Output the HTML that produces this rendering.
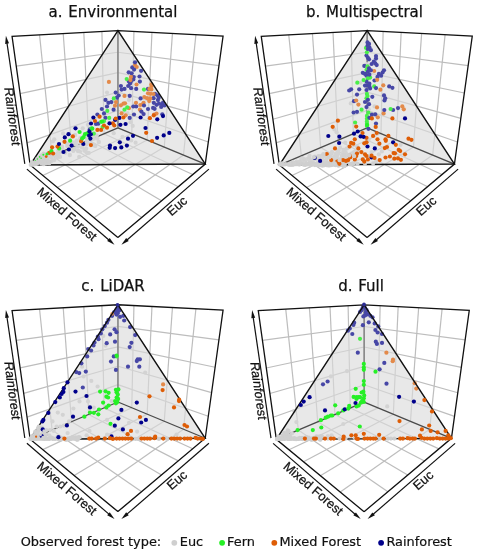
<!DOCTYPE html>
<html><head><meta charset="utf-8"><title>Forest type probabilities</title>
<style>
html,body{margin:0;padding:0;background:#fff}
svg{display:block;filter:blur(0.35px)}
text{font-family:"DejaVu Sans","Liberation Sans",sans-serif;fill:#111}
.ti{font-size:15px;word-spacing:1px;stroke:#111;stroke-width:0.25px}
.ax{font-size:12.8px;stroke:#111;stroke-width:0.25px;font-family:"Liberation Sans",sans-serif}
.lg{font-size:12.9px;stroke:#111;stroke-width:0.2px}
</style></head><body>
<svg width="478" height="550" viewBox="0 0 478 550">
<rect width="478" height="550" fill="#fff"/>
<g id="pa">
<g><line x1="104.08" y1="133.69" x2="101.91" y2="31.43" stroke="#bdbdbd" stroke-width="1.2"/><line x1="117.95" y1="110.4" x2="27.04" y2="142.93" stroke="#bdbdbd" stroke-width="1.2"/><line x1="131.79" y1="133.56" x2="133.93" y2="31.38" stroke="#bdbdbd" stroke-width="1.2"/><line x1="117.95" y1="110.4" x2="208.3" y2="142.04" stroke="#bdbdbd" stroke-width="1.2"/><line x1="104.08" y1="133.69" x2="192.73" y2="174.56" stroke="#bdbdbd" stroke-width="1.2"/><line x1="131.79" y1="133.56" x2="42.76" y2="175.44" stroke="#bdbdbd" stroke-width="1.2"/><line x1="88.68" y1="140.22" x2="83.82" y2="32.42" stroke="#bdbdbd" stroke-width="1.2"/><line x1="117.94" y1="92.06" x2="23.71" y2="119.21" stroke="#bdbdbd" stroke-width="1.2"/><line x1="147.15" y1="139.93" x2="151.96" y2="32.31" stroke="#bdbdbd" stroke-width="1.2"/><line x1="117.94" y1="92.06" x2="211.59" y2="118.42" stroke="#bdbdbd" stroke-width="1.2"/><line x1="88.68" y1="140.22" x2="178.31" y2="186.67" stroke="#bdbdbd" stroke-width="1.2"/><line x1="147.15" y1="139.93" x2="57.29" y2="187.42" stroke="#bdbdbd" stroke-width="1.2"/><line x1="71.46" y1="147.51" x2="63.21" y2="33.54" stroke="#bdbdbd" stroke-width="1.2"/><line x1="117.94" y1="72.69" x2="20.12" y2="93.68" stroke="#bdbdbd" stroke-width="1.2"/><line x1="164.28" y1="147.04" x2="172.45" y2="33.37" stroke="#bdbdbd" stroke-width="1.2"/><line x1="117.94" y1="72.69" x2="215.13" y2="93.02" stroke="#bdbdbd" stroke-width="1.2"/><line x1="71.46" y1="147.51" x2="161.5" y2="200.78" stroke="#bdbdbd" stroke-width="1.2"/><line x1="164.28" y1="147.04" x2="74.18" y2="201.36" stroke="#bdbdbd" stroke-width="1.2"/><line x1="52.1" y1="155.72" x2="39.54" y2="34.84" stroke="#bdbdbd" stroke-width="1.2"/><line x1="117.94" y1="52.22" x2="16.25" y2="66.14" stroke="#bdbdbd" stroke-width="1.2"/><line x1="183.5" y1="155.03" x2="195.91" y2="34.58" stroke="#bdbdbd" stroke-width="1.2"/><line x1="117.94" y1="52.22" x2="218.94" y2="65.62" stroke="#bdbdbd" stroke-width="1.2"/><line x1="52.1" y1="155.72" x2="141.66" y2="217.45" stroke="#bdbdbd" stroke-width="1.2"/><line x1="183.5" y1="155.03" x2="94.09" y2="217.79" stroke="#bdbdbd" stroke-width="1.2"/></g>
<polygon points="117.94,30.56 30.14,165.03 205.24,164.05" fill="#dbdbdb" fill-opacity="0.64" stroke="none"/>
<line x1="117.95" y1="127.81" x2="117.94" y2="30.56" stroke="#8a8a8a" stroke-width="1.7"/><line x1="117.95" y1="127.81" x2="30.14" y2="165.03" stroke="#4a4a4a" stroke-width="1.3"/><line x1="117.95" y1="127.81" x2="205.24" y2="164.05" stroke="#4a4a4a" stroke-width="1.3"/>
<g><circle cx="33.6" cy="160.5" r="1.56" fill="#d3d3d3"/><circle cx="36" cy="161.5" r="1.64" fill="#d3d3d3"/><circle cx="37.8" cy="160.7" r="1.68" fill="#d3d3d3"/><circle cx="39.5" cy="161.3" r="1.72" fill="#d3d3d3"/><circle cx="42.3" cy="160.3" r="1.8" fill="#d3d3d3"/><circle cx="42.4" cy="158.5" r="1.87" fill="#d3d3d3"/><circle cx="46.1" cy="158" r="1.95" fill="#d3d3d3"/><circle cx="47.7" cy="158.3" r="1.98" fill="#d3d3d3"/><circle cx="48.3" cy="156.2" r="2.05" fill="#d3d3d3"/><circle cx="51.8" cy="161" r="2.09" fill="#d3d3d3"/><circle cx="51.5" cy="157.5" r="2.12" fill="#d3d3d3"/><circle cx="54.3" cy="160.1" r="2.16" fill="#d3d3d3"/><circle cx="52.5" cy="154.2" r="2.2" fill="#d3d3d3"/><circle cx="54.4" cy="155.1" r="2.2" fill="#d3d3d3"/><circle cx="56" cy="154.9" r="2.2" fill="#d3d3d3"/><circle cx="57.5" cy="156.9" r="2.2" fill="#d3d3d3"/><circle cx="57.1" cy="153.6" r="2.2" fill="#d3d3d3"/><circle cx="58.5" cy="154.1" r="2.2" fill="#d3d3d3"/><circle cx="58.5" cy="150.5" r="2.2" fill="#d3d3d3"/><circle cx="61.2" cy="152.1" r="2.2" fill="#d3d3d3"/><circle cx="62" cy="146.7" r="2.2" fill="#d3d3d3"/><circle cx="62.3" cy="148.7" r="2.2" fill="#d3d3d3"/><circle cx="65.2" cy="152.6" r="2.2" fill="#d3d3d3"/><circle cx="69.8" cy="155" r="2.2" fill="#d3d3d3"/><circle cx="67.5" cy="146.2" r="2.2" fill="#d3d3d3"/><circle cx="67.2" cy="144" r="2.2" fill="#d3d3d3"/><circle cx="70.9" cy="147.3" r="2.2" fill="#d3d3d3"/><circle cx="71.3" cy="149.1" r="2.2" fill="#d3d3d3"/><circle cx="71.3" cy="142.2" r="2.2" fill="#d3d3d3"/><circle cx="74.5" cy="148.9" r="2.2" fill="#d3d3d3"/><circle cx="74" cy="142.7" r="2.2" fill="#d3d3d3"/><circle cx="78.1" cy="151" r="2.2" fill="#d3d3d3"/><circle cx="76" cy="144.5" r="2.2" fill="#d3d3d3"/><circle cx="78" cy="146.5" r="2.2" fill="#d3d3d3"/><circle cx="76.7" cy="140.8" r="2.2" fill="#d3d3d3"/><circle cx="75" cy="134.9" r="2.2" fill="#d3d3d3"/><circle cx="82.1" cy="147.4" r="2.2" fill="#d3d3d3"/><circle cx="81" cy="143.1" r="2.2" fill="#d3d3d3"/><circle cx="80.4" cy="138.2" r="2.2" fill="#d3d3d3"/><circle cx="81.9" cy="139.4" r="2.2" fill="#d3d3d3"/><circle cx="86.1" cy="148.8" r="2.2" fill="#d3d3d3"/><circle cx="86.2" cy="144.3" r="2.2" fill="#d3d3d3"/><circle cx="86.9" cy="142.4" r="2.2" fill="#d3d3d3"/><circle cx="87.3" cy="139.7" r="2.2" fill="#d3d3d3"/><circle cx="85.4" cy="136.8" r="2.2" fill="#d3d3d3"/><circle cx="86.8" cy="136.1" r="2.2" fill="#d3d3d3"/><circle cx="90.8" cy="143.8" r="2.2" fill="#d3d3d3"/><circle cx="92.7" cy="144.9" r="2.2" fill="#d3d3d3"/><circle cx="95.2" cy="145.9" r="2.2" fill="#d3d3d3"/><circle cx="92.2" cy="138.9" r="2.2" fill="#d3d3d3"/><circle cx="90.8" cy="132.9" r="2.2" fill="#d3d3d3"/><circle cx="93.8" cy="138.6" r="2.2" fill="#d3d3d3"/><circle cx="94" cy="136.1" r="2.2" fill="#d3d3d3"/><circle cx="97.3" cy="138.6" r="2.2" fill="#d3d3d3"/><circle cx="98.8" cy="142" r="2.2" fill="#d3d3d3"/><circle cx="96.7" cy="135.4" r="2.2" fill="#d3d3d3"/><circle cx="54.3" cy="139.3" r="2.1" fill="#d3d3d3"/><circle cx="52.8" cy="141.5" r="2.1" fill="#d3d3d3"/><circle cx="63.1" cy="133.4" r="2.1" fill="#d3d3d3"/><circle cx="60.1" cy="156.9" r="2.1" fill="#d3d3d3"/><circle cx="79.2" cy="156.9" r="2.1" fill="#d3d3d3"/><circle cx="82.8" cy="128.3" r="2.1" fill="#d3d3d3"/><circle cx="44" cy="159.8" r="2.1" fill="#d3d3d3"/><circle cx="86.5" cy="152.5" r="2.1" fill="#d3d3d3"/><circle cx="73.3" cy="151" r="2.1" fill="#d3d3d3"/><circle cx="107" cy="92.6" r="2.1" fill="#d3d3d3"/><circle cx="134.8" cy="104.3" r="2.1" fill="#d3d3d3"/><circle cx="127.5" cy="113.1" r="2.1" fill="#d3d3d3"/><circle cx="87.9" cy="124.8" r="2.1" fill="#d3d3d3"/><circle cx="128.9" cy="99.9" r="2.1" fill="#d3d3d3"/><circle cx="113.7" cy="133.2" r="2.1" fill="#d3d3d3"/><circle cx="122.5" cy="136.8" r="2.1" fill="#d3d3d3"/><circle cx="131.2" cy="140.5" r="2.1" fill="#d3d3d3"/><circle cx="135.6" cy="142.7" r="2.1" fill="#d3d3d3"/><circle cx="84.4" cy="150.7" r="2.1" fill="#d3d3d3"/><circle cx="88.8" cy="152.9" r="2.1" fill="#d3d3d3"/><circle cx="80" cy="151.5" r="2.1" fill="#d3d3d3"/><circle cx="132.7" cy="125.9" r="2.1" fill="#d3d3d3"/><circle cx="130.5" cy="122.2" r="2.1" fill="#d3d3d3"/><circle cx="155" cy="93.8" r="2.1" fill="#4747a6"/><circle cx="128.9" cy="108.2" r="2.1" fill="#e38a4a"/><circle cx="105.5" cy="117.8" r="2.1" fill="#4747a6"/><circle cx="132.6" cy="77.2" r="2.1" fill="#e38a4a"/><circle cx="123.5" cy="103.6" r="2.1" fill="#e38a4a"/><circle cx="157.9" cy="100.1" r="2.1" fill="#4747a6"/><circle cx="118.7" cy="95.5" r="2.1" fill="#4747a6"/><circle cx="132.3" cy="67.4" r="2.1" fill="#4747a6"/><circle cx="115.7" cy="92.6" r="2.1" fill="#4747a6"/><circle cx="125.7" cy="115.3" r="2.1" fill="#e38a4a"/><circle cx="124.5" cy="95.9" r="2.1" fill="#e38a4a"/><circle cx="162.3" cy="114.3" r="2.1" fill="#4747a6"/><circle cx="136" cy="102.8" r="2.1" fill="#e38a4a"/><circle cx="153.6" cy="98.2" r="2.1" fill="#4747a6"/><circle cx="128.9" cy="81.6" r="2.1" fill="#4747a6"/><circle cx="153.1" cy="107.9" r="2.1" fill="#4747a6"/><circle cx="139.9" cy="109.7" r="2.1" fill="#e38a4a"/><circle cx="164.5" cy="105.5" r="2.1" fill="#4747a6"/><circle cx="133.3" cy="79.4" r="2.1" fill="#4747a6"/><circle cx="108.9" cy="81.9" r="2.1" fill="#e38a4a"/><circle cx="127.2" cy="107.4" r="2.1" fill="#4aee4a"/><circle cx="134" cy="114.5" r="2.1" fill="#4747a6"/><circle cx="158.7" cy="97.8" r="2.1" fill="#4747a6"/><circle cx="154.2" cy="114.6" r="2.1" fill="#e38a4a"/><circle cx="128.2" cy="86" r="2.1" fill="#4747a6"/><circle cx="116.9" cy="97.7" r="2.1" fill="#4747a6"/><circle cx="144.3" cy="97" r="2.1" fill="#e38a4a"/><circle cx="142.9" cy="104.4" r="2.1" fill="#e38a4a"/><circle cx="159" cy="103.7" r="2.1" fill="#4747a6"/><circle cx="129.7" cy="95.9" r="2.1" fill="#4747a6"/><circle cx="161.2" cy="107" r="2.1" fill="#4747a6"/><circle cx="98.3" cy="123.7" r="2.1" fill="#4747a6"/><circle cx="150.6" cy="93.8" r="2.1" fill="#e38a4a"/><circle cx="133.8" cy="77" r="2.1" fill="#4747a6"/><circle cx="143.6" cy="114.1" r="2.1" fill="#4747a6"/><circle cx="139.5" cy="76.5" r="2.1" fill="#4747a6"/><circle cx="101.8" cy="109" r="2.1" fill="#4747a6"/><circle cx="139.9" cy="81.6" r="2.1" fill="#4747a6"/><circle cx="107.3" cy="110.9" r="2.1" fill="#4aee4a"/><circle cx="108.4" cy="102.8" r="2.1" fill="#4747a6"/><circle cx="89.9" cy="129.3" r="2.1" fill="#4747a6"/><circle cx="149.2" cy="101.1" r="2.1" fill="#e38a4a"/><circle cx="115" cy="105.7" r="2.1" fill="#e38a4a"/><circle cx="131.1" cy="88.2" r="2.1" fill="#4747a6"/><circle cx="130.9" cy="81.4" r="2.1" fill="#4747a6"/><circle cx="156.5" cy="104.8" r="2.1" fill="#4747a6"/><circle cx="150.2" cy="98.4" r="2.1" fill="#e38a4a"/><circle cx="147" cy="98.2" r="2.1" fill="#e38a4a"/><circle cx="153.8" cy="102.8" r="2.1" fill="#4747a6"/><circle cx="140.3" cy="105" r="2.1" fill="#e38a4a"/><circle cx="111.4" cy="102.1" r="2.1" fill="#4747a6"/><circle cx="121.6" cy="113.4" r="2.1" fill="#e38a4a"/><circle cx="135" cy="65" r="2.1" fill="#e38a4a"/><circle cx="113.6" cy="109.7" r="2.1" fill="#4747a6"/><circle cx="91.6" cy="128.4" r="2.1" fill="#4aee4a"/><circle cx="157.5" cy="95.3" r="2.1" fill="#4747a6"/><circle cx="113.8" cy="98.4" r="2.1" fill="#4aee4a"/><circle cx="162" cy="104.4" r="2.1" fill="#4747a6"/><circle cx="129.7" cy="117.9" r="2.1" fill="#4747a6"/><circle cx="120.9" cy="105.3" r="2.1" fill="#e38a4a"/><circle cx="136.2" cy="106.5" r="2.1" fill="#4747a6"/><circle cx="116" cy="102.1" r="2.1" fill="#e38a4a"/><circle cx="136.2" cy="88.9" r="2.1" fill="#4747a6"/><circle cx="136.7" cy="67" r="2.1" fill="#e38a4a"/><circle cx="144" cy="89.6" r="2.1" fill="#4aee4a"/><circle cx="140.6" cy="98.4" r="2.1" fill="#4747a6"/><circle cx="151.6" cy="86" r="2.1" fill="#e38a4a"/><circle cx="101.1" cy="121.9" r="2.1" fill="#4aee4a"/><circle cx="124.5" cy="88.9" r="2.1" fill="#4747a6"/><circle cx="107" cy="106.5" r="2.1" fill="#4747a6"/><circle cx="154.6" cy="108.8" r="2.1" fill="#4747a6"/><circle cx="104" cy="121.1" r="2.1" fill="#4aee4a"/><circle cx="148" cy="93.3" r="2.1" fill="#e38a4a"/><circle cx="121.6" cy="89.6" r="2.1" fill="#4747a6"/><circle cx="141.1" cy="70.8" r="2.1" fill="#4747a6"/><circle cx="136.5" cy="84.5" r="2.1" fill="#e38a4a"/><circle cx="135" cy="62.3" r="2.1" fill="#4747a6"/><circle cx="96" cy="124" r="2.1" fill="#4747a6"/><circle cx="130.1" cy="83.6" r="2.1" fill="#4747a6"/><circle cx="105.5" cy="99.9" r="2.1" fill="#4747a6"/><circle cx="109.2" cy="117.9" r="2.1" fill="#4aee4a"/><circle cx="97.4" cy="114.5" r="2.1" fill="#4747a6"/><circle cx="134.1" cy="69.6" r="2.1" fill="#4747a6"/><circle cx="141.4" cy="111.6" r="2.1" fill="#4747a6"/><circle cx="148" cy="88.9" r="2.1" fill="#4747a6"/><circle cx="126.7" cy="79.1" r="2.1" fill="#4aee4a"/><circle cx="163.1" cy="102.6" r="2.1" fill="#4747a6"/><circle cx="104" cy="113.4" r="2.1" fill="#4747a6"/><circle cx="120.9" cy="86" r="2.1" fill="#4747a6"/><circle cx="151.4" cy="84.3" r="2.1" fill="#e38a4a"/><circle cx="131.6" cy="73.3" r="2.1" fill="#4747a6"/><circle cx="143.6" cy="102.8" r="2.1" fill="#e38a4a"/><circle cx="102.6" cy="127" r="2.1" fill="#4aee4a"/><circle cx="130.4" cy="80.1" r="2.1" fill="#e38a4a"/><circle cx="151.4" cy="89.4" r="2.1" fill="#e38a4a"/><circle cx="144" cy="105.5" r="2.1" fill="#4747a6"/><circle cx="133.3" cy="106.5" r="2.1" fill="#4747a6"/><circle cx="124.5" cy="109.7" r="2.1" fill="#4aee4a"/><circle cx="130.9" cy="77" r="2.1" fill="#e38a4a"/><circle cx="156.5" cy="113.6" r="2.1" fill="#e38a4a"/><circle cx="93.8" cy="133.6" r="2.1" fill="#4aee4a"/><circle cx="149.4" cy="88.9" r="2.1" fill="#e38a4a"/><circle cx="125" cy="103.3" r="2.1" fill="#e38a4a"/><circle cx="153.5" cy="94" r="2.1" fill="#e38a4a"/><circle cx="148" cy="109" r="2.1" fill="#4747a6"/><circle cx="128.7" cy="72.3" r="2.1" fill="#4747a6"/></g>
<polygon points="117.94,30.56 30.14,165.03 205.24,164.05" fill="none" stroke="#111" stroke-width="1.4" stroke-linejoin="miter"/>
<polyline points="117.88,237.42 30.14,165.03 12.06,36.34 117.94,30.56 223.07,35.99 205.24,164.05 117.88,237.42" fill="none" stroke="#111" stroke-width="1.3" stroke-linejoin="miter"/>
<g><circle cx="30.33" cy="164.88" r="1.61" fill="#cfcfcf"/><circle cx="30.64" cy="164.61" r="1.63" fill="#cfcfcf"/><circle cx="30.45" cy="164.01" r="1.65" fill="#cfcfcf"/><circle cx="31.4" cy="164.34" r="1.67" fill="#cfcfcf"/><circle cx="31.7" cy="164.04" r="1.69" fill="#cfcfcf"/><circle cx="31.87" cy="163.58" r="1.71" fill="#cfcfcf"/><circle cx="32.75" cy="165.02" r="1.73" fill="#cfcfcf"/><circle cx="32.72" cy="163.4" r="1.75" fill="#cfcfcf"/><circle cx="32.64" cy="162.63" r="1.77" fill="#cfcfcf"/><circle cx="32.09" cy="161.68" r="1.79" fill="#cfcfcf"/><circle cx="30.32" cy="164.95" r="1.5" fill="#cfcfcf"/><circle cx="30.63" cy="164.85" r="1.51" fill="#cfcfcf"/><circle cx="30.98" cy="164.88" r="1.52" fill="#cfcfcf"/><circle cx="31.11" cy="164.3" r="1.53" fill="#cfcfcf"/><circle cx="31.45" cy="164.22" r="1.54" fill="#cfcfcf"/><circle cx="31.98" cy="164.84" r="1.55" fill="#cfcfcf"/><circle cx="31.78" cy="163.53" r="1.55" fill="#cfcfcf"/><circle cx="32.05" cy="163.33" r="1.56" fill="#cfcfcf"/><circle cx="32.65" cy="163.62" r="1.57" fill="#cfcfcf"/><circle cx="32.98" cy="163.53" r="1.58" fill="#cfcfcf"/><circle cx="33.61" cy="164.44" r="1.59" fill="#cfcfcf"/><circle cx="33.98" cy="164.77" r="1.6" fill="#cfcfcf"/><circle cx="33.98" cy="163.31" r="1.6" fill="#cfcfcf"/><circle cx="34.64" cy="164.6" r="1.61" fill="#cfcfcf"/><circle cx="34.92" cy="164.14" r="1.62" fill="#cfcfcf"/><circle cx="35.21" cy="163.89" r="1.63" fill="#cfcfcf"/><circle cx="35.64" cy="164.63" r="1.64" fill="#cfcfcf"/><circle cx="35.61" cy="162.89" r="1.65" fill="#cfcfcf"/><circle cx="35.96" cy="162.86" r="1.65" fill="#cfcfcf"/><circle cx="35.43" cy="161.14" r="1.66" fill="#cfcfcf"/><circle cx="36.45" cy="162.29" r="1.67" fill="#cfcfcf"/><circle cx="36.5" cy="161.61" r="1.68" fill="#cfcfcf"/><circle cx="37.1" cy="162.12" r="1.69" fill="#cfcfcf"/><circle cx="37.03" cy="161.19" r="1.7" fill="#cfcfcf"/><circle cx="37.81" cy="162.09" r="1.7" fill="#cfcfcf"/><circle cx="38.43" cy="162.99" r="1.71" fill="#cfcfcf"/><circle cx="36.72" cy="159.02" r="1.72" fill="#cfcfcf"/><circle cx="36.98" cy="158.8" r="1.73" fill="#cfcfcf"/><circle cx="37.87" cy="159.38" r="1.74" fill="#cfcfcf"/><circle cx="38.64" cy="159.95" r="1.75" fill="#cfcfcf"/><circle cx="39.99" cy="162.35" r="1.75" fill="#cfcfcf"/><circle cx="40.45" cy="162.87" r="1.76" fill="#cfcfcf"/><circle cx="40.68" cy="162.37" r="1.77" fill="#cfcfcf"/><circle cx="41.28" cy="163.97" r="1.78" fill="#cfcfcf"/><circle cx="39.83" cy="158.7" r="1.79" fill="#cfcfcf"/><circle cx="41.4" cy="161.24" r="1.8" fill="#cfcfcf"/><circle cx="40.01" cy="157.77" r="1.8" fill="#cfcfcf"/><circle cx="42.07" cy="161.15" r="1.81" fill="#cfcfcf"/><circle cx="39.93" cy="156.59" r="1.82" fill="#cfcfcf"/><circle cx="40.82" cy="157.18" r="1.83" fill="#cfcfcf"/><circle cx="43.64" cy="164.42" r="1.84" fill="#cfcfcf"/><circle cx="43.76" cy="162.4" r="1.85" fill="#cfcfcf"/><circle cx="41.25" cy="156.09" r="1.85" fill="#cfcfcf"/><circle cx="43.71" cy="159.74" r="1.86" fill="#cfcfcf"/><circle cx="41.31" cy="155.11" r="1.87" fill="#cfcfcf"/><circle cx="44.58" cy="160.22" r="1.88" fill="#cfcfcf"/><circle cx="45.59" cy="163.55" r="1.89" fill="#cfcfcf"/><circle cx="44.24" cy="157.65" r="1.9" fill="#cfcfcf"/><circle cx="43.69" cy="156.04" r="1.9" fill="#cfcfcf"/><circle cx="46.24" cy="161.22" r="1.91" fill="#cfcfcf"/><circle cx="46.91" cy="163.26" r="1.92" fill="#cfcfcf"/><circle cx="46.71" cy="160.34" r="1.93" fill="#cfcfcf"/><circle cx="43.44" cy="153.49" r="1.94" fill="#cfcfcf"/><circle cx="45.22" cy="155.33" r="1.95" fill="#cfcfcf"/><circle cx="48.19" cy="162.74" r="1.95" fill="#cfcfcf"/><circle cx="48.26" cy="161.06" r="1.96" fill="#cfcfcf"/><circle cx="48.88" cy="162.88" r="1.97" fill="#cfcfcf"/><circle cx="49.26" cy="163.39" r="1.98" fill="#cfcfcf"/><circle cx="46.34" cy="153.99" r="1.99" fill="#cfcfcf"/><circle cx="49.73" cy="161.72" r="2" fill="#cfcfcf"/></g>
<g><circle cx="31.1" cy="163.5" r="1.43" fill="#cfcfcf"/><circle cx="32.7" cy="162.9" r="1.48" fill="#cfcfcf"/><circle cx="37.3" cy="164.1" r="1.6" fill="#cfcfcf"/><circle cx="59.1" cy="148.4" r="2.1" fill="#26f026"/><circle cx="93.4" cy="117.6" r="2.1" fill="#00008b"/><circle cx="146.2" cy="132.8" r="2.1" fill="#de5d06"/><circle cx="83.6" cy="137.1" r="2.1" fill="#26f026"/><circle cx="125.6" cy="124" r="2.1" fill="#00008b"/><circle cx="70.1" cy="140.7" r="2.1" fill="#26f026"/><circle cx="83.3" cy="144" r="2.1" fill="#00008b"/><circle cx="49.2" cy="152.9" r="2.1" fill="#de5d06"/><circle cx="90.9" cy="145.1" r="2.1" fill="#de5d06"/><circle cx="104" cy="125.5" r="2.1" fill="#de5d06"/><circle cx="47" cy="153.9" r="1.5" fill="#26f026"/><circle cx="107" cy="127.7" r="2.1" fill="#de5d06"/><circle cx="57.5" cy="146.6" r="2.1" fill="#de5d06"/><circle cx="41.1" cy="158.3" r="0.7" fill="#26f026"/><circle cx="119.4" cy="117.9" r="2.1" fill="#00008b"/><circle cx="43.3" cy="154.7" r="1" fill="#26f026"/><circle cx="51.4" cy="151" r="2.1" fill="#26f026"/><circle cx="149.9" cy="118.2" r="2.1" fill="#de5d06"/><circle cx="46.2" cy="156.6" r="1.4" fill="#de5d06"/><circle cx="169.3" cy="132.9" r="2.1" fill="#00008b"/><circle cx="81.1" cy="141.2" r="2.1" fill="#de5d06"/><circle cx="128" cy="138.7" r="2.1" fill="#00008b"/><circle cx="115.1" cy="120" r="2.1" fill="#00008b"/><circle cx="39.6" cy="156.9" r="0.8" fill="#26f026"/><circle cx="157.3" cy="119.3" r="2.1" fill="#00008b"/><circle cx="97.4" cy="129.9" r="2.1" fill="#de5d06"/><circle cx="133" cy="135.8" r="2.1" fill="#00008b"/><circle cx="79.6" cy="132" r="2.1" fill="#26f026"/><circle cx="101.1" cy="129.9" r="2.1" fill="#de5d06"/><circle cx="37.4" cy="159" r="0.7" fill="#26f026"/><circle cx="82.2" cy="138.3" r="2.1" fill="#26f026"/><circle cx="85" cy="134.2" r="2.1" fill="#26f026"/><circle cx="35.2" cy="160.5" r="0.6" fill="#26f026"/><circle cx="163" cy="116.1" r="2.1" fill="#00008b"/><circle cx="91" cy="123.5" r="2.1" fill="#00008b"/><circle cx="64.5" cy="141.8" r="2.1" fill="#de5d06"/><circle cx="52.1" cy="147.3" r="2.1" fill="#de5d06"/><circle cx="75.5" cy="128.3" r="2.1" fill="#00008b"/><circle cx="112.8" cy="123.3" r="2.1" fill="#de5d06"/><circle cx="114.3" cy="125.5" r="2.1" fill="#de5d06"/><circle cx="71.6" cy="145.6" r="2.1" fill="#00008b"/><circle cx="102" cy="121.5" r="2.1" fill="#26f026"/><circle cx="140.6" cy="117.5" r="2.1" fill="#00008b"/><circle cx="109.5" cy="123.3" r="2.1" fill="#00008b"/><circle cx="157.1" cy="137.8" r="2.1" fill="#00008b"/><circle cx="120.4" cy="124.8" r="2.1" fill="#00008b"/><circle cx="68.5" cy="134.2" r="2.1" fill="#00008b"/><circle cx="87.2" cy="133.4" r="2.1" fill="#26f026"/><circle cx="63.5" cy="152" r="2.1" fill="#00008b"/><circle cx="53.1" cy="153.5" r="2.1" fill="#de5d06"/><circle cx="68.9" cy="149.5" r="2.1" fill="#00008b"/><circle cx="59" cy="144" r="2.1" fill="#00008b"/><circle cx="90.9" cy="134.3" r="2.1" fill="#00008b"/><circle cx="109.7" cy="147.8" r="2.1" fill="#00008b"/><circle cx="163.7" cy="135.4" r="2.1" fill="#00008b"/><circle cx="152" cy="141" r="2.1" fill="#de5d06"/><circle cx="89.1" cy="135.6" r="2.1" fill="#00008b"/><circle cx="72.9" cy="136.4" r="2.1" fill="#de5d06"/><circle cx="115.1" cy="148.1" r="2.1" fill="#00008b"/><circle cx="119.8" cy="142.3" r="2.1" fill="#00008b"/><circle cx="110" cy="145.6" r="2.1" fill="#00008b"/><circle cx="99.6" cy="116.7" r="2.1" fill="#de5d06"/><circle cx="123.4" cy="117.5" r="2.1" fill="#de5d06"/><circle cx="121.3" cy="147.4" r="2.1" fill="#00008b"/><circle cx="89.4" cy="131.4" r="2.1" fill="#00008b"/><circle cx="92.3" cy="128.7" r="2.1" fill="#26f026"/><circle cx="95" cy="121" r="2.1" fill="#de5d06"/><circle cx="90.4" cy="138.6" r="2.1" fill="#00008b"/><circle cx="153.8" cy="115.3" r="2.1" fill="#de5d06"/><circle cx="64.8" cy="137.4" r="2.1" fill="#00008b"/><circle cx="145.5" cy="128" r="2.1" fill="#00008b"/><circle cx="126.9" cy="145.6" r="2.1" fill="#00008b"/><circle cx="115.7" cy="118.5" r="2.1" fill="#de5d06"/></g>
<g></g>
<line x1="24.8" y1="163.8" x2="6.92" y2="42.63" stroke="#111" stroke-width="1.2"/><polygon points="5.9,35.7 9,43.33 5.14,43.9" fill="#111"/>
<line x1="26.9" y1="169.1" x2="109.2" y2="240.22" stroke="#111" stroke-width="1.2"/><polygon points="114.5,244.8 107.17,241.04 109.72,238.09" fill="#111"/>
<line x1="208.9" y1="169.1" x2="126.69" y2="240.22" stroke="#111" stroke-width="1.2"/><polygon points="121.4,244.8 126.17,238.09 128.73,241.04" fill="#111"/>
<text transform="translate(8.1,116.5) rotate(82.2) skewX(-8)" text-anchor="middle" class="ax">Rainforest</text>
<text transform="translate(64.3,217.5) rotate(40.8)" text-anchor="middle" class="ax">Mixed Forest</text>
<text transform="translate(179.8,209.2) rotate(-40.8)" text-anchor="middle" class="ax">Euc</text>
<text x="113" y="16.9" text-anchor="middle" class="ti">a. Environmental</text>
</g>
<g id="pb">
<g><line x1="353.28" y1="133.69" x2="351.11" y2="31.43" stroke="#bdbdbd" stroke-width="1.2"/><line x1="367.15" y1="110.4" x2="276.24" y2="142.93" stroke="#bdbdbd" stroke-width="1.2"/><line x1="380.99" y1="133.56" x2="383.13" y2="31.38" stroke="#bdbdbd" stroke-width="1.2"/><line x1="367.15" y1="110.4" x2="457.5" y2="142.04" stroke="#bdbdbd" stroke-width="1.2"/><line x1="353.28" y1="133.69" x2="441.93" y2="174.56" stroke="#bdbdbd" stroke-width="1.2"/><line x1="380.99" y1="133.56" x2="291.96" y2="175.44" stroke="#bdbdbd" stroke-width="1.2"/><line x1="337.88" y1="140.22" x2="333.02" y2="32.42" stroke="#bdbdbd" stroke-width="1.2"/><line x1="367.14" y1="92.06" x2="272.91" y2="119.21" stroke="#bdbdbd" stroke-width="1.2"/><line x1="396.35" y1="139.93" x2="401.16" y2="32.31" stroke="#bdbdbd" stroke-width="1.2"/><line x1="367.14" y1="92.06" x2="460.79" y2="118.42" stroke="#bdbdbd" stroke-width="1.2"/><line x1="337.88" y1="140.22" x2="427.51" y2="186.67" stroke="#bdbdbd" stroke-width="1.2"/><line x1="396.35" y1="139.93" x2="306.49" y2="187.42" stroke="#bdbdbd" stroke-width="1.2"/><line x1="320.66" y1="147.51" x2="312.41" y2="33.54" stroke="#bdbdbd" stroke-width="1.2"/><line x1="367.14" y1="72.69" x2="269.32" y2="93.68" stroke="#bdbdbd" stroke-width="1.2"/><line x1="413.48" y1="147.04" x2="421.65" y2="33.37" stroke="#bdbdbd" stroke-width="1.2"/><line x1="367.14" y1="72.69" x2="464.33" y2="93.02" stroke="#bdbdbd" stroke-width="1.2"/><line x1="320.66" y1="147.51" x2="410.7" y2="200.78" stroke="#bdbdbd" stroke-width="1.2"/><line x1="413.48" y1="147.04" x2="323.38" y2="201.36" stroke="#bdbdbd" stroke-width="1.2"/><line x1="301.3" y1="155.72" x2="288.74" y2="34.84" stroke="#bdbdbd" stroke-width="1.2"/><line x1="367.14" y1="52.22" x2="265.45" y2="66.14" stroke="#bdbdbd" stroke-width="1.2"/><line x1="432.7" y1="155.03" x2="445.11" y2="34.58" stroke="#bdbdbd" stroke-width="1.2"/><line x1="367.14" y1="52.22" x2="468.14" y2="65.62" stroke="#bdbdbd" stroke-width="1.2"/><line x1="301.3" y1="155.72" x2="390.86" y2="217.45" stroke="#bdbdbd" stroke-width="1.2"/><line x1="432.7" y1="155.03" x2="343.29" y2="217.79" stroke="#bdbdbd" stroke-width="1.2"/></g>
<polygon points="367.14,30.56 279.34,165.03 454.44,164.05" fill="#dbdbdb" fill-opacity="0.64" stroke="none"/>
<line x1="367.15" y1="127.81" x2="367.14" y2="30.56" stroke="#8a8a8a" stroke-width="1.7"/><line x1="367.15" y1="127.81" x2="279.34" y2="165.03" stroke="#4a4a4a" stroke-width="1.3"/><line x1="367.15" y1="127.81" x2="454.44" y2="164.05" stroke="#4a4a4a" stroke-width="1.3"/>
<g><circle cx="292.8" cy="161.6" r="1.64" fill="#d3d3d3"/><circle cx="296.6" cy="161.2" r="1.74" fill="#d3d3d3"/><circle cx="300.1" cy="161.9" r="1.82" fill="#d3d3d3"/><circle cx="301.5" cy="160.2" r="1.86" fill="#d3d3d3"/><circle cx="302.4" cy="162.2" r="1.87" fill="#d3d3d3"/><circle cx="302.8" cy="160.8" r="1.88" fill="#d3d3d3"/><circle cx="305.2" cy="162.3" r="1.94" fill="#d3d3d3"/><circle cx="305.4" cy="159.8" r="1.95" fill="#d3d3d3"/><circle cx="306.9" cy="158.9" r="1.99" fill="#d3d3d3"/><circle cx="310.1" cy="161.5" r="2.06" fill="#d3d3d3"/><circle cx="310.5" cy="160.1" r="2.07" fill="#d3d3d3"/><circle cx="312.4" cy="161.7" r="2.11" fill="#d3d3d3"/><circle cx="313.3" cy="160" r="2.14" fill="#d3d3d3"/><circle cx="314.8" cy="158.9" r="2.18" fill="#d3d3d3"/><circle cx="314.9" cy="156.7" r="2.19" fill="#d3d3d3"/><circle cx="317" cy="158.6" r="2.2" fill="#d3d3d3"/><circle cx="317.8" cy="156.7" r="2.2" fill="#d3d3d3"/><circle cx="319.9" cy="159.1" r="2.2" fill="#d3d3d3"/><circle cx="320.2" cy="157.7" r="2.2" fill="#d3d3d3"/><circle cx="321.1" cy="156.3" r="2.2" fill="#d3d3d3"/><circle cx="322.1" cy="158.8" r="2.2" fill="#d3d3d3"/><circle cx="322.9" cy="161.7" r="2.2" fill="#d3d3d3"/><circle cx="323.2" cy="155.6" r="2.2" fill="#d3d3d3"/><circle cx="324.9" cy="155.9" r="2.2" fill="#d3d3d3"/><circle cx="326.1" cy="160" r="2.2" fill="#d3d3d3"/><circle cx="327.2" cy="155.8" r="2.2" fill="#d3d3d3"/><circle cx="327.5" cy="154.5" r="2.2" fill="#d3d3d3"/><circle cx="330" cy="155.9" r="2.2" fill="#d3d3d3"/><circle cx="331.2" cy="160.5" r="2.2" fill="#d3d3d3"/><circle cx="330.7" cy="153.7" r="2.2" fill="#d3d3d3"/><circle cx="332.6" cy="158.1" r="2.2" fill="#d3d3d3"/><circle cx="332" cy="151.9" r="2.2" fill="#d3d3d3"/><circle cx="334" cy="160.5" r="2.2" fill="#d3d3d3"/><circle cx="334.6" cy="156.6" r="2.2" fill="#d3d3d3"/><circle cx="336.3" cy="161.8" r="2.2" fill="#d3d3d3"/><circle cx="336.6" cy="158.9" r="2.2" fill="#d3d3d3"/><circle cx="336.8" cy="156.1" r="2.2" fill="#d3d3d3"/><circle cx="338" cy="162.3" r="2.2" fill="#d3d3d3"/><circle cx="337.8" cy="152.3" r="2.2" fill="#d3d3d3"/><circle cx="338.6" cy="150.8" r="2.2" fill="#d3d3d3"/><circle cx="341.1" cy="158.9" r="2.2" fill="#d3d3d3"/><circle cx="341.9" cy="156.7" r="2.2" fill="#d3d3d3"/><circle cx="342.2" cy="154.8" r="2.2" fill="#d3d3d3"/><circle cx="343.5" cy="149.9" r="2.2" fill="#d3d3d3"/><circle cx="345.2" cy="156.5" r="2.2" fill="#d3d3d3"/><circle cx="345.8" cy="153" r="2.2" fill="#d3d3d3"/><circle cx="347.3" cy="160.6" r="2.2" fill="#d3d3d3"/><circle cx="346.6" cy="148.6" r="2.2" fill="#d3d3d3"/><circle cx="348.5" cy="155.8" r="2.2" fill="#d3d3d3"/><circle cx="350.4" cy="157.4" r="2.2" fill="#d3d3d3"/><circle cx="350.6" cy="154.5" r="2.2" fill="#d3d3d3"/><circle cx="352.1" cy="153.4" r="2.2" fill="#d3d3d3"/><circle cx="354.1" cy="152.2" r="2.2" fill="#d3d3d3"/><circle cx="355.4" cy="158" r="2.2" fill="#d3d3d3"/><circle cx="355.6" cy="150.9" r="2.2" fill="#d3d3d3"/><circle cx="357.4" cy="151.7" r="2.2" fill="#d3d3d3"/><circle cx="356.9" cy="146.4" r="2.2" fill="#d3d3d3"/><circle cx="366.9" cy="64" r="2.1" fill="#d3d3d3"/><circle cx="360.6" cy="82.7" r="2.1" fill="#d3d3d3"/><circle cx="368.7" cy="109.3" r="2.1" fill="#d3d3d3"/><circle cx="350.8" cy="103.4" r="2.1" fill="#d3d3d3"/><circle cx="374.5" cy="106.4" r="2.1" fill="#d3d3d3"/><circle cx="345.2" cy="142.6" r="2.1" fill="#d3d3d3"/><circle cx="340.1" cy="147.7" r="2.1" fill="#d3d3d3"/><circle cx="343.8" cy="151.4" r="2.1" fill="#d3d3d3"/><circle cx="337.9" cy="154.3" r="2.1" fill="#d3d3d3"/><circle cx="371.6" cy="152.1" r="2.1" fill="#d3d3d3"/><circle cx="378.9" cy="154.3" r="2.1" fill="#d3d3d3"/><circle cx="368.7" cy="139.6" r="2.1" fill="#d3d3d3"/><circle cx="381.9" cy="151.4" r="2.1" fill="#d3d3d3"/><circle cx="376" cy="161.6" r="2.1" fill="#d3d3d3"/><circle cx="301.5" cy="158.7" r="2.1" fill="#d3d3d3"/><circle cx="309.5" cy="155.7" r="2.1" fill="#d3d3d3"/><circle cx="335.9" cy="153.6" r="2.1" fill="#d3d3d3"/><circle cx="328.6" cy="157.2" r="2.1" fill="#d3d3d3"/><circle cx="334.4" cy="129.4" r="2.1" fill="#d3d3d3"/><circle cx="336.6" cy="132.3" r="2.1" fill="#d3d3d3"/><circle cx="400.6" cy="144.8" r="2.1" fill="#d3d3d3"/><circle cx="361.6" cy="109.7" r="2.1" fill="#4aee4a"/><circle cx="369" cy="59.3" r="2.1" fill="#4747a6"/><circle cx="372.3" cy="96.8" r="2.1" fill="#4747a6"/><circle cx="366.5" cy="75.7" r="2.1" fill="#4747a6"/><circle cx="366.5" cy="55.6" r="2.1" fill="#4747a6"/><circle cx="366.9" cy="118.8" r="2.1" fill="#4aee4a"/><circle cx="359.2" cy="89.3" r="2.1" fill="#4747a6"/><circle cx="393.1" cy="110" r="2.1" fill="#4747a6"/><circle cx="351.1" cy="89.3" r="2.1" fill="#4747a6"/><circle cx="376" cy="58.6" r="2.1" fill="#4747a6"/><circle cx="369.4" cy="47.3" r="2.1" fill="#4747a6"/><circle cx="358.4" cy="104.6" r="2.1" fill="#e38a4a"/><circle cx="373.8" cy="61.5" r="2.1" fill="#4747a6"/><circle cx="366.9" cy="115.9" r="2.1" fill="#4aee4a"/><circle cx="378.9" cy="73.9" r="2.1" fill="#4747a6"/><circle cx="370.1" cy="88.5" r="2.1" fill="#4747a6"/><circle cx="371.6" cy="64" r="2.1" fill="#4747a6"/><circle cx="366.9" cy="123.9" r="2.1" fill="#4aee4a"/><circle cx="382.6" cy="72.5" r="2.1" fill="#4747a6"/><circle cx="369" cy="43.9" r="2.1" fill="#4747a6"/><circle cx="349.2" cy="90.5" r="2.1" fill="#4747a6"/><circle cx="368.4" cy="112.5" r="2.1" fill="#4aee4a"/><circle cx="374.5" cy="80.5" r="2.1" fill="#4747a6"/><circle cx="389.2" cy="86.4" r="2.1" fill="#4747a6"/><circle cx="364.3" cy="65.9" r="2.1" fill="#4747a6"/><circle cx="374.2" cy="86.4" r="2.1" fill="#4aee4a"/><circle cx="366.9" cy="126.1" r="2.1" fill="#4aee4a"/><circle cx="366.9" cy="93.9" r="2.1" fill="#4aee4a"/><circle cx="380.4" cy="89.7" r="2.1" fill="#e38a4a"/><circle cx="384" cy="70.3" r="2.1" fill="#4747a6"/><circle cx="370.1" cy="77.6" r="2.1" fill="#4aee4a"/><circle cx="381.1" cy="75.7" r="2.1" fill="#4747a6"/><circle cx="365" cy="102" r="2.1" fill="#4747a6"/><circle cx="366.9" cy="52.3" r="2.1" fill="#4aee4a"/><circle cx="367.5" cy="42.4" r="2.1" fill="#4747a6"/><circle cx="370.9" cy="50.2" r="2.1" fill="#4747a6"/><circle cx="369.4" cy="86.4" r="2.1" fill="#4747a6"/><circle cx="367.5" cy="96.1" r="2.1" fill="#4aee4a"/><circle cx="355.1" cy="122.5" r="2.1" fill="#4aee4a"/><circle cx="362.8" cy="72.8" r="2.1" fill="#4747a6"/><circle cx="366.5" cy="90" r="2.1" fill="#4747a6"/><circle cx="375.3" cy="63.4" r="2.1" fill="#4747a6"/><circle cx="366" cy="47.9" r="2.1" fill="#4aee4a"/><circle cx="376" cy="56.1" r="2.1" fill="#4747a6"/><circle cx="377" cy="107.4" r="2.1" fill="#e38a4a"/><circle cx="366.5" cy="69.8" r="2.1" fill="#4aee4a"/><circle cx="357" cy="111.8" r="2.1" fill="#4747a6"/><circle cx="390.6" cy="109" r="2.1" fill="#4aee4a"/><circle cx="375.3" cy="114.4" r="2.1" fill="#4747a6"/><circle cx="357" cy="94.6" r="2.1" fill="#4747a6"/><circle cx="367.9" cy="57.8" r="2.1" fill="#4747a6"/><circle cx="374.2" cy="71" r="2.1" fill="#e38a4a"/><circle cx="367.9" cy="49" r="2.1" fill="#4747a6"/><circle cx="365" cy="85.6" r="2.1" fill="#4747a6"/><circle cx="383.6" cy="113.4" r="2.1" fill="#e38a4a"/><circle cx="384.5" cy="100.5" r="2.1" fill="#4747a6"/><circle cx="367.9" cy="78.3" r="2.1" fill="#4aee4a"/><circle cx="367.9" cy="71.7" r="2.1" fill="#4747a6"/><circle cx="366.5" cy="107.1" r="2.1" fill="#4747a6"/><circle cx="366.5" cy="81.5" r="2.1" fill="#4747a6"/><circle cx="367.5" cy="66.3" r="2.1" fill="#4aee4a"/><circle cx="369" cy="104.2" r="2.1" fill="#4747a6"/><circle cx="369" cy="68.4" r="2.1" fill="#4747a6"/><circle cx="366.5" cy="85.3" r="2.1" fill="#4747a6"/><circle cx="369.4" cy="117.8" r="2.1" fill="#4747a6"/><circle cx="367.5" cy="45.8" r="2.1" fill="#4747a6"/><circle cx="384.3" cy="110" r="2.1" fill="#4747a6"/><circle cx="384" cy="95.4" r="2.1" fill="#4747a6"/><circle cx="366.5" cy="98.3" r="2.1" fill="#4aee4a"/><circle cx="392.4" cy="87.8" r="2.1" fill="#4747a6"/><circle cx="354" cy="101.2" r="2.1" fill="#4747a6"/><circle cx="357.3" cy="82.7" r="2.1" fill="#4aee4a"/><circle cx="398" cy="108.1" r="2.1" fill="#4747a6"/><circle cx="383.3" cy="85.3" r="2.1" fill="#e38a4a"/><circle cx="376" cy="88.1" r="2.1" fill="#4747a6"/><circle cx="385.2" cy="98.3" r="2.1" fill="#4747a6"/><circle cx="366.9" cy="121.7" r="2.1" fill="#4aee4a"/><circle cx="363.6" cy="80.1" r="2.1" fill="#4aee4a"/><circle cx="377.5" cy="76.9" r="2.1" fill="#4747a6"/><circle cx="402.3" cy="106.4" r="2.1" fill="#e38a4a"/><circle cx="368.4" cy="128.8" r="2.1" fill="#4747a6"/><circle cx="376.7" cy="65.1" r="2.1" fill="#4747a6"/><circle cx="353.6" cy="112.5" r="2.1" fill="#4747a6"/><circle cx="369.4" cy="74.7" r="2.1" fill="#4747a6"/><circle cx="403.8" cy="109.3" r="2.1" fill="#e38a4a"/><circle cx="356.2" cy="100.5" r="2.1" fill="#e38a4a"/><circle cx="377.2" cy="79.8" r="2.1" fill="#e38a4a"/><circle cx="367.9" cy="99.8" r="2.1" fill="#4747a6"/><circle cx="377.8" cy="117.3" r="2.1" fill="#e38a4a"/><circle cx="371.9" cy="114.7" r="2.1" fill="#4747a6"/><circle cx="370.9" cy="70.3" r="2.1" fill="#4747a6"/><circle cx="365" cy="73.9" r="2.1" fill="#4747a6"/><circle cx="369.4" cy="83.7" r="2.1" fill="#4747a6"/><circle cx="376" cy="123.6" r="2.1" fill="#4747a6"/></g>
<polygon points="367.14,30.56 279.34,165.03 454.44,164.05" fill="none" stroke="#111" stroke-width="1.4" stroke-linejoin="miter"/>
<polyline points="367.08,237.42 279.34,165.03 261.26,36.34 367.14,30.56 472.27,35.99 454.44,164.05 367.08,237.42" fill="none" stroke="#111" stroke-width="1.3" stroke-linejoin="miter"/>
<g><circle cx="279.58" cy="164.86" r="1.61" fill="#cfcfcf"/><circle cx="279.96" cy="164.53" r="1.64" fill="#cfcfcf"/><circle cx="279.73" cy="163.77" r="1.66" fill="#cfcfcf"/><circle cx="280.92" cy="164.18" r="1.69" fill="#cfcfcf"/><circle cx="281.28" cy="163.81" r="1.71" fill="#cfcfcf"/><circle cx="281.5" cy="163.23" r="1.74" fill="#cfcfcf"/><circle cx="282.6" cy="165.04" r="1.76" fill="#cfcfcf"/><circle cx="282.56" cy="163.01" r="1.79" fill="#cfcfcf"/><circle cx="279.72" cy="164.96" r="1.4" fill="#cfcfcf"/><circle cx="280.45" cy="164.92" r="1.41" fill="#cfcfcf"/><circle cx="281.18" cy="164.99" r="1.42" fill="#cfcfcf"/><circle cx="281.92" cy="164.96" r="1.43" fill="#cfcfcf"/><circle cx="282.65" cy="165.01" r="1.44" fill="#cfcfcf"/><circle cx="283.38" cy="164.8" r="1.45" fill="#cfcfcf"/><circle cx="284.11" cy="164.81" r="1.46" fill="#cfcfcf"/><circle cx="284.85" cy="165.06" r="1.47" fill="#cfcfcf"/><circle cx="285.58" cy="164.62" r="1.48" fill="#cfcfcf"/><circle cx="286.31" cy="164.58" r="1.48" fill="#cfcfcf"/><circle cx="287.05" cy="164.73" r="1.49" fill="#cfcfcf"/><circle cx="287.78" cy="164.74" r="1.5" fill="#cfcfcf"/><circle cx="288.52" cy="165.04" r="1.51" fill="#cfcfcf"/><circle cx="289.25" cy="165.16" r="1.52" fill="#cfcfcf"/><circle cx="289.98" cy="164.75" r="1.53" fill="#cfcfcf"/><circle cx="290.71" cy="165.15" r="1.54" fill="#cfcfcf"/><circle cx="291.45" cy="165.04" r="1.55" fill="#cfcfcf"/><circle cx="292.18" cy="164.99" r="1.56" fill="#cfcfcf"/><circle cx="292.91" cy="165.22" r="1.56" fill="#cfcfcf"/><circle cx="293.65" cy="164.74" r="1.57" fill="#cfcfcf"/><circle cx="294.38" cy="164.76" r="1.58" fill="#cfcfcf"/><circle cx="295.1" cy="164.25" r="1.59" fill="#cfcfcf"/><circle cx="295.85" cy="164.64" r="1.6" fill="#cfcfcf"/><circle cx="296.58" cy="164.46" r="1.61" fill="#cfcfcf"/><circle cx="297.32" cy="164.63" r="1.62" fill="#cfcfcf"/><circle cx="298.04" cy="164.38" r="1.63" fill="#cfcfcf"/><circle cx="298.78" cy="164.67" r="1.64" fill="#cfcfcf"/><circle cx="299.52" cy="164.94" r="1.64" fill="#cfcfcf"/><circle cx="300.22" cy="163.76" r="1.65" fill="#cfcfcf"/><circle cx="300.95" cy="163.72" r="1.66" fill="#cfcfcf"/><circle cx="301.7" cy="163.95" r="1.67" fill="#cfcfcf"/><circle cx="302.44" cy="164.16" r="1.68" fill="#cfcfcf"/><circle cx="303.18" cy="164.87" r="1.69" fill="#cfcfcf"/><circle cx="303.92" cy="165.03" r="1.7" fill="#cfcfcf"/><circle cx="304.65" cy="164.91" r="1.71" fill="#cfcfcf"/><circle cx="305.38" cy="165.36" r="1.72" fill="#cfcfcf"/><circle cx="306.1" cy="163.91" r="1.72" fill="#cfcfcf"/><circle cx="306.85" cy="164.67" r="1.73" fill="#cfcfcf"/><circle cx="307.56" cy="163.67" r="1.74" fill="#cfcfcf"/><circle cx="308.32" cy="164.68" r="1.75" fill="#cfcfcf"/><circle cx="309.01" cy="163.34" r="1.76" fill="#cfcfcf"/><circle cx="309.76" cy="163.57" r="1.77" fill="#cfcfcf"/><circle cx="310.51" cy="165.61" r="1.78" fill="#cfcfcf"/><circle cx="311.25" cy="165.1" r="1.79" fill="#cfcfcf"/><circle cx="311.95" cy="163.31" r="1.8" fill="#cfcfcf"/><circle cx="312.71" cy="164.42" r="1.8" fill="#cfcfcf"/><circle cx="313.41" cy="163.04" r="1.81" fill="#cfcfcf"/><circle cx="314.18" cy="164.6" r="1.82" fill="#cfcfcf"/><circle cx="314.91" cy="165.49" r="1.83" fill="#cfcfcf"/><circle cx="315.64" cy="163.92" r="1.84" fill="#cfcfcf"/><circle cx="316.36" cy="163.46" r="1.85" fill="#cfcfcf"/><circle cx="317.12" cy="164.94" r="1.86" fill="#cfcfcf"/><circle cx="317.84" cy="165.49" r="1.87" fill="#cfcfcf"/><circle cx="318.58" cy="164.75" r="1.88" fill="#cfcfcf"/><circle cx="319.27" cy="162.76" r="1.88" fill="#cfcfcf"/><circle cx="320.03" cy="163.38" r="1.89" fill="#cfcfcf"/><circle cx="320.78" cy="165.43" r="1.9" fill="#cfcfcf"/><circle cx="321.52" cy="165.02" r="1.91" fill="#cfcfcf"/><circle cx="322.24" cy="165.51" r="1.92" fill="#cfcfcf"/><circle cx="322.97" cy="165.66" r="1.93" fill="#cfcfcf"/><circle cx="323.69" cy="163.1" r="1.94" fill="#cfcfcf"/><circle cx="324.45" cy="165.26" r="1.95" fill="#cfcfcf"/><circle cx="325.18" cy="163.9" r="1.96" fill="#cfcfcf"/><circle cx="325.91" cy="164.29" r="1.96" fill="#cfcfcf"/><circle cx="326.65" cy="165.23" r="1.97" fill="#cfcfcf"/><circle cx="327.36" cy="163.19" r="1.98" fill="#cfcfcf"/><circle cx="328.11" cy="165.47" r="1.99" fill="#cfcfcf"/><circle cx="328.84" cy="163.48" r="2" fill="#cfcfcf"/><circle cx="329.58" cy="165.54" r="2.01" fill="#cfcfcf"/><circle cx="330.32" cy="164.33" r="2.02" fill="#cfcfcf"/><circle cx="331.05" cy="165.16" r="2.03" fill="#cfcfcf"/><circle cx="331.78" cy="164.93" r="2.04" fill="#cfcfcf"/><circle cx="332.45" cy="162.01" r="2.04" fill="#cfcfcf"/><circle cx="333.21" cy="162.67" r="2.05" fill="#cfcfcf"/><circle cx="333.98" cy="164.78" r="2.06" fill="#cfcfcf"/><circle cx="334.66" cy="162.26" r="2.07" fill="#cfcfcf"/><circle cx="335.45" cy="165.19" r="2.08" fill="#cfcfcf"/><circle cx="336.18" cy="164.37" r="2.09" fill="#cfcfcf"/><circle cx="336.87" cy="162.29" r="2.1" fill="#cfcfcf"/><circle cx="337.63" cy="163.23" r="2.11" fill="#cfcfcf"/><circle cx="338.37" cy="165.71" r="2.12" fill="#cfcfcf"/><circle cx="339.04" cy="161.55" r="2.12" fill="#cfcfcf"/><circle cx="339.85" cy="165.2" r="2.13" fill="#cfcfcf"/><circle cx="340.58" cy="164.98" r="2.14" fill="#cfcfcf"/><circle cx="341.28" cy="162.48" r="2.15" fill="#cfcfcf"/><circle cx="342.05" cy="164.63" r="2.16" fill="#cfcfcf"/><circle cx="342.78" cy="164.79" r="2.17" fill="#cfcfcf"/><circle cx="343.5" cy="165.91" r="2.18" fill="#cfcfcf"/><circle cx="344.24" cy="165.84" r="2.19" fill="#cfcfcf"/><circle cx="344.97" cy="163.31" r="2.2" fill="#cfcfcf"/></g>
<g><circle cx="287.6" cy="164.4" r="1.51" fill="#cfcfcf"/><circle cx="289.2" cy="163.5" r="1.55" fill="#cfcfcf"/><circle cx="290.9" cy="164.8" r="1.59" fill="#cfcfcf"/><circle cx="291.2" cy="162.5" r="1.6" fill="#cfcfcf"/><circle cx="292.6" cy="164.1" r="1.63" fill="#cfcfcf"/><circle cx="295.2" cy="162.4" r="1.7" fill="#cfcfcf"/><circle cx="295.9" cy="164.2" r="1.71" fill="#cfcfcf"/><circle cx="297.4" cy="162.6" r="1.75" fill="#cfcfcf"/><circle cx="299.3" cy="164.5" r="1.79" fill="#cfcfcf"/><circle cx="300.9" cy="163.3" r="1.83" fill="#cfcfcf"/><circle cx="308.1" cy="164.1" r="2" fill="#cfcfcf"/><circle cx="318" cy="163.1" r="2.2" fill="#cfcfcf"/><circle cx="321.3" cy="162.5" r="2.2" fill="#cfcfcf"/><circle cx="323.6" cy="163.9" r="2.2" fill="#cfcfcf"/><circle cx="325.3" cy="163.6" r="2.2" fill="#cfcfcf"/><circle cx="326.9" cy="162.9" r="2.2" fill="#cfcfcf"/><circle cx="329.2" cy="164" r="2.2" fill="#cfcfcf"/><circle cx="335.8" cy="164.1" r="2.2" fill="#cfcfcf"/><circle cx="338.6" cy="163.9" r="2.2" fill="#cfcfcf"/><circle cx="350.2" cy="164.2" r="2.2" fill="#cfcfcf"/><circle cx="351.9" cy="164" r="2.2" fill="#cfcfcf"/><circle cx="353.5" cy="163.3" r="2.2" fill="#cfcfcf"/><circle cx="357.4" cy="163.9" r="2.2" fill="#cfcfcf"/><circle cx="344.5" cy="163.1" r="2.1" fill="#cfcfcf"/><circle cx="365" cy="163.8" r="2.1" fill="#cfcfcf"/><circle cx="373.1" cy="163.4" r="2.1" fill="#cfcfcf"/><circle cx="278.8" cy="164.2" r="1.5" fill="#cfcfcf"/><circle cx="283.2" cy="164.2" r="1.8" fill="#cfcfcf"/><circle cx="306.6" cy="163.4" r="2.1" fill="#cfcfcf"/><circle cx="311" cy="162.8" r="2.1" fill="#cfcfcf"/><circle cx="313.9" cy="164.2" r="2.1" fill="#cfcfcf"/><circle cx="331.5" cy="164.2" r="2.1" fill="#cfcfcf"/><circle cx="285.4" cy="164.2" r="2.1" fill="#cfcfcf"/><circle cx="294.2" cy="163.9" r="2.1" fill="#cfcfcf"/><circle cx="316.1" cy="164.2" r="2.1" fill="#cfcfcf"/><circle cx="320.5" cy="163.9" r="2.1" fill="#cfcfcf"/><circle cx="334.4" cy="163.4" r="2.1" fill="#cfcfcf"/><circle cx="349.6" cy="155.7" r="2.1" fill="#de5d06"/><circle cx="385.5" cy="139.3" r="2.1" fill="#de5d06"/><circle cx="335" cy="148.4" r="2.1" fill="#de5d06"/><circle cx="389.9" cy="156.5" r="2.1" fill="#de5d06"/><circle cx="371.6" cy="157.5" r="2.1" fill="#00008b"/><circle cx="393.6" cy="153.1" r="2.1" fill="#de5d06"/><circle cx="353.3" cy="143.7" r="2.1" fill="#de5d06"/><circle cx="398.7" cy="149.9" r="2.1" fill="#de5d06"/><circle cx="400.2" cy="151.1" r="2.1" fill="#de5d06"/><circle cx="343.1" cy="160.1" r="2.1" fill="#de5d06"/><circle cx="366.5" cy="156" r="2.1" fill="#de5d06"/><circle cx="337.2" cy="161.6" r="2.1" fill="#de5d06"/><circle cx="384.8" cy="148.1" r="2.1" fill="#de5d06"/><circle cx="362.8" cy="159.4" r="2.1" fill="#de5d06"/><circle cx="374.8" cy="148.4" r="2.1" fill="#00008b"/><circle cx="394.3" cy="158.7" r="2.1" fill="#de5d06"/><circle cx="362.5" cy="133" r="2.1" fill="#de5d06"/><circle cx="356.2" cy="156" r="2.1" fill="#de5d06"/><circle cx="405" cy="154.3" r="2.1" fill="#de5d06"/><circle cx="357" cy="153.6" r="2.1" fill="#de5d06"/><circle cx="331.2" cy="160.1" r="2.1" fill="#de5d06"/><circle cx="376.7" cy="133" r="2.1" fill="#de5d06"/><circle cx="361.4" cy="152.1" r="2.1" fill="#de5d06"/><circle cx="373.1" cy="135.9" r="2.1" fill="#de5d06"/><circle cx="388.4" cy="135.9" r="2.1" fill="#de5d06"/><circle cx="398" cy="158.4" r="2.1" fill="#de5d06"/><circle cx="332.7" cy="126.8" r="2.1" fill="#de5d06"/><circle cx="377.5" cy="139.3" r="2.1" fill="#de5d06"/><circle cx="346" cy="160.9" r="2.1" fill="#de5d06"/><circle cx="337.9" cy="120.7" r="2.1" fill="#de5d06"/><circle cx="395" cy="153.3" r="2.1" fill="#de5d06"/><circle cx="365" cy="154.3" r="2.1" fill="#de5d06"/><circle cx="339.4" cy="163.8" r="2.1" fill="#de5d06"/><circle cx="400.9" cy="159.8" r="2.1" fill="#de5d06"/><circle cx="392.4" cy="118.4" r="2.1" fill="#de5d06"/><circle cx="371.6" cy="155.7" r="2.1" fill="#de5d06"/><circle cx="354.8" cy="159.4" r="2.1" fill="#de5d06"/><circle cx="326.8" cy="154" r="2.1" fill="#de5d06"/><circle cx="339.4" cy="136.7" r="2.1" fill="#00008b"/><circle cx="358.4" cy="148.4" r="2.1" fill="#de5d06"/><circle cx="387" cy="147" r="2.1" fill="#de5d06"/><circle cx="371.9" cy="118.4" r="2.1" fill="#de5d06"/><circle cx="405" cy="118.4" r="2.1" fill="#00008b"/><circle cx="364.3" cy="161.6" r="2.1" fill="#de5d06"/><circle cx="350.4" cy="157.2" r="2.1" fill="#de5d06"/><circle cx="366.5" cy="137.8" r="2.1" fill="#de5d06"/><circle cx="363.6" cy="136.8" r="2.1" fill="#00008b"/><circle cx="367.2" cy="125" r="2.1" fill="#26f026"/><circle cx="367.5" cy="146.5" r="2.1" fill="#00008b"/><circle cx="408.5" cy="138.7" r="2.1" fill="#de5d06"/><circle cx="393.1" cy="142.3" r="2.1" fill="#00008b"/><circle cx="354" cy="133.7" r="2.1" fill="#00008b"/><circle cx="354.8" cy="139.3" r="2.1" fill="#de5d06"/><circle cx="374.5" cy="157.9" r="2.1" fill="#de5d06"/><circle cx="385.8" cy="140.8" r="2.1" fill="#de5d06"/><circle cx="395.8" cy="144.8" r="2.1" fill="#de5d06"/><circle cx="351.1" cy="142.9" r="2.1" fill="#de5d06"/><circle cx="360.6" cy="136.4" r="2.1" fill="#00008b"/><circle cx="320.1" cy="160.9" r="2.1" fill="#00008b"/><circle cx="338.8" cy="160.9" r="2.1" fill="#de5d06"/><circle cx="411.4" cy="139.8" r="2.1" fill="#de5d06"/><circle cx="366.5" cy="142.3" r="2.1" fill="#de5d06"/><circle cx="349.6" cy="146.5" r="2.1" fill="#de5d06"/><circle cx="348.2" cy="160.1" r="2.1" fill="#de5d06"/><circle cx="367.9" cy="159.4" r="2.1" fill="#de5d06"/><circle cx="314.7" cy="157.9" r="2.1" fill="#00008b"/><circle cx="385.5" cy="157.5" r="2.1" fill="#de5d06"/><circle cx="379.4" cy="143.7" r="2.1" fill="#de5d06"/><circle cx="356.2" cy="126.6" r="2.1" fill="#de5d06"/><circle cx="364.3" cy="143.3" r="2.1" fill="#de5d06"/><circle cx="339.1" cy="143" r="2.1" fill="#00008b"/><circle cx="357.7" cy="131.5" r="2.1" fill="#00008b"/><circle cx="375.7" cy="126.9" r="2.1" fill="#de5d06"/><circle cx="328.3" cy="136" r="2.1" fill="#00008b"/><circle cx="379.7" cy="160.1" r="2.1" fill="#de5d06"/></g>
<g><circle cx="289.7" cy="163.3" r="1.56" fill="#d1d1d1"/><circle cx="294.7" cy="163.1" r="1.68" fill="#d1d1d1"/><circle cx="299.5" cy="161.2" r="1.8" fill="#d1d1d1"/><circle cx="304.2" cy="159.3" r="1.92" fill="#d1d1d1"/><circle cx="308.9" cy="157.8" r="2.05" fill="#d1d1d1"/><circle cx="313.9" cy="157.2" r="2.17" fill="#d1d1d1"/><circle cx="318.8" cy="156.1" r="2.2" fill="#d1d1d1"/><circle cx="323.4" cy="154.1" r="2.2" fill="#d1d1d1"/><circle cx="329.1" cy="157.3" r="2.2" fill="#d1d1d1"/><circle cx="334.7" cy="163.5" r="2.2" fill="#d1d1d1"/><circle cx="339.5" cy="160" r="2.2" fill="#d1d1d1"/><circle cx="343.9" cy="154.9" r="2.2" fill="#d1d1d1"/><circle cx="349" cy="155.3" r="2.2" fill="#d1d1d1"/><circle cx="354.1" cy="156.1" r="2.2" fill="#d1d1d1"/></g>
<line x1="274" y1="163.8" x2="256.12" y2="42.63" stroke="#111" stroke-width="1.2"/><polygon points="255.1,35.7 258.2,43.33 254.34,43.9" fill="#111"/>
<line x1="276.1" y1="169.1" x2="358.4" y2="240.22" stroke="#111" stroke-width="1.2"/><polygon points="363.7,244.8 356.37,241.04 358.92,238.09" fill="#111"/>
<line x1="458.1" y1="169.1" x2="375.89" y2="240.22" stroke="#111" stroke-width="1.2"/><polygon points="370.6,244.8 375.37,238.09 377.93,241.04" fill="#111"/>
<text transform="translate(257.3,116.5) rotate(82.2) skewX(-8)" text-anchor="middle" class="ax">Rainforest</text>
<text transform="translate(313.5,217.5) rotate(40.8)" text-anchor="middle" class="ax">Mixed Forest</text>
<text transform="translate(429,209.2) rotate(-40.8)" text-anchor="middle" class="ax">Euc</text>
<text x="364.5" y="16.9" text-anchor="middle" class="ti">b. Multispectral</text>
</g>
<g id="pc">
<g><line x1="104.08" y1="407.89" x2="101.91" y2="305.63" stroke="#bdbdbd" stroke-width="1.2"/><line x1="117.95" y1="384.6" x2="27.04" y2="417.13" stroke="#bdbdbd" stroke-width="1.2"/><line x1="131.79" y1="407.76" x2="133.93" y2="305.58" stroke="#bdbdbd" stroke-width="1.2"/><line x1="117.95" y1="384.6" x2="208.3" y2="416.24" stroke="#bdbdbd" stroke-width="1.2"/><line x1="104.08" y1="407.89" x2="192.73" y2="448.76" stroke="#bdbdbd" stroke-width="1.2"/><line x1="131.79" y1="407.76" x2="42.76" y2="449.64" stroke="#bdbdbd" stroke-width="1.2"/><line x1="88.68" y1="414.42" x2="83.82" y2="306.62" stroke="#bdbdbd" stroke-width="1.2"/><line x1="117.94" y1="366.26" x2="23.71" y2="393.41" stroke="#bdbdbd" stroke-width="1.2"/><line x1="147.15" y1="414.13" x2="151.96" y2="306.51" stroke="#bdbdbd" stroke-width="1.2"/><line x1="117.94" y1="366.26" x2="211.59" y2="392.62" stroke="#bdbdbd" stroke-width="1.2"/><line x1="88.68" y1="414.42" x2="178.31" y2="460.87" stroke="#bdbdbd" stroke-width="1.2"/><line x1="147.15" y1="414.13" x2="57.29" y2="461.62" stroke="#bdbdbd" stroke-width="1.2"/><line x1="71.46" y1="421.71" x2="63.21" y2="307.74" stroke="#bdbdbd" stroke-width="1.2"/><line x1="117.94" y1="346.89" x2="20.12" y2="367.88" stroke="#bdbdbd" stroke-width="1.2"/><line x1="164.28" y1="421.24" x2="172.45" y2="307.57" stroke="#bdbdbd" stroke-width="1.2"/><line x1="117.94" y1="346.89" x2="215.13" y2="367.22" stroke="#bdbdbd" stroke-width="1.2"/><line x1="71.46" y1="421.71" x2="161.5" y2="474.98" stroke="#bdbdbd" stroke-width="1.2"/><line x1="164.28" y1="421.24" x2="74.18" y2="475.56" stroke="#bdbdbd" stroke-width="1.2"/><line x1="52.1" y1="429.92" x2="39.54" y2="309.04" stroke="#bdbdbd" stroke-width="1.2"/><line x1="117.94" y1="326.42" x2="16.25" y2="340.34" stroke="#bdbdbd" stroke-width="1.2"/><line x1="183.5" y1="429.23" x2="195.91" y2="308.78" stroke="#bdbdbd" stroke-width="1.2"/><line x1="117.94" y1="326.42" x2="218.94" y2="339.82" stroke="#bdbdbd" stroke-width="1.2"/><line x1="52.1" y1="429.92" x2="141.66" y2="491.65" stroke="#bdbdbd" stroke-width="1.2"/><line x1="183.5" y1="429.23" x2="94.09" y2="491.99" stroke="#bdbdbd" stroke-width="1.2"/></g>
<polygon points="117.94,304.76 30.14,439.23 205.24,438.25" fill="#dbdbdb" fill-opacity="0.64" stroke="none"/>
<line x1="117.95" y1="402.01" x2="117.94" y2="304.76" stroke="#8a8a8a" stroke-width="1.7"/><line x1="117.95" y1="402.01" x2="30.14" y2="439.23" stroke="#4a4a4a" stroke-width="1.3"/><line x1="117.95" y1="402.01" x2="205.24" y2="438.25" stroke="#4a4a4a" stroke-width="1.3"/>
<g><circle cx="103.3" cy="335.9" r="2.1" fill="#d3d3d3"/><circle cx="105.5" cy="345.7" r="2.1" fill="#d3d3d3"/><circle cx="82.1" cy="366.7" r="2.1" fill="#d3d3d3"/><circle cx="91.3" cy="380.9" r="2.1" fill="#d3d3d3"/><circle cx="79.5" cy="401.4" r="2.1" fill="#d3d3d3"/><circle cx="88" cy="401.4" r="2.1" fill="#d3d3d3"/><circle cx="83.6" cy="376.5" r="2.1" fill="#d3d3d3"/><circle cx="73.4" cy="408.5" r="2.1" fill="#d3d3d3"/><circle cx="57.8" cy="412.6" r="2.1" fill="#d3d3d3"/><circle cx="62.8" cy="414.8" r="2.1" fill="#d3d3d3"/><circle cx="52.5" cy="421.4" r="2.1" fill="#d3d3d3"/><circle cx="69" cy="421.4" r="2.1" fill="#d3d3d3"/><circle cx="56.6" cy="426.5" r="2.1" fill="#d3d3d3"/><circle cx="60.3" cy="426.5" r="2.1" fill="#d3d3d3"/><circle cx="63.9" cy="425.7" r="2.1" fill="#d3d3d3"/><circle cx="46.4" cy="430.1" r="2.1" fill="#d3d3d3"/><circle cx="50" cy="430.1" r="2.1" fill="#d3d3d3"/><circle cx="53.7" cy="430.9" r="2.1" fill="#d3d3d3"/><circle cx="67.6" cy="433.1" r="2.1" fill="#d3d3d3"/><circle cx="49.3" cy="435.3" r="2.1" fill="#d3d3d3"/><circle cx="86.6" cy="435.3" r="2.1" fill="#d3d3d3"/><circle cx="33.9" cy="434.5" r="1.8" fill="#d3d3d3"/><circle cx="37.6" cy="433.8" r="2.1" fill="#d3d3d3"/><circle cx="97.6" cy="386.5" r="2.1" fill="#d3d3d3"/><circle cx="111.5" cy="401.1" r="2.1" fill="#d3d3d3"/><circle cx="145.2" cy="372.6" r="2.1" fill="#d3d3d3"/><circle cx="93.9" cy="407.7" r="2.1" fill="#d3d3d3"/><circle cx="107.1" cy="434.5" r="2.1" fill="#d3d3d3"/><circle cx="89.5" cy="430.9" r="2.1" fill="#d3d3d3"/><circle cx="137.1" cy="431.6" r="2.1" fill="#d3d3d3"/><circle cx="129" cy="422.8" r="2.1" fill="#d3d3d3"/><circle cx="107.1" cy="419.9" r="2.1" fill="#d3d3d3"/><circle cx="176.5" cy="434.5" r="2.1" fill="#d3d3d3"/><circle cx="124.2" cy="320.5" r="2.1" fill="#4747a6"/><circle cx="88.2" cy="349" r="2.1" fill="#4747a6"/><circle cx="120.1" cy="316.8" r="2.1" fill="#4747a6"/><circle cx="139.9" cy="359.3" r="2.1" fill="#4747a6"/><circle cx="137.7" cy="359.3" r="2.1" fill="#4747a6"/><circle cx="112.1" cy="315.8" r="2.1" fill="#4747a6"/><circle cx="116" cy="311.7" r="2.1" fill="#4747a6"/><circle cx="108.4" cy="319.8" r="2.1" fill="#4747a6"/><circle cx="110.2" cy="334.4" r="2.1" fill="#4747a6"/><circle cx="102.3" cy="329.3" r="2.1" fill="#4747a6"/><circle cx="116.5" cy="332.2" r="2.1" fill="#4747a6"/><circle cx="116.5" cy="309.5" r="2.1" fill="#4747a6"/><circle cx="130.1" cy="327.1" r="2.1" fill="#4747a6"/><circle cx="118.7" cy="308.8" r="2.1" fill="#4747a6"/><circle cx="100.8" cy="333.4" r="2.1" fill="#4747a6"/><circle cx="115.9" cy="369.9" r="2.1" fill="#4747a6"/><circle cx="114.6" cy="329.3" r="2.1" fill="#4747a6"/><circle cx="76.2" cy="372.1" r="2.1" fill="#4747a6"/><circle cx="115" cy="341.7" r="2.1" fill="#4747a6"/><circle cx="81.4" cy="363.3" r="2.1" fill="#4747a6"/><circle cx="117.9" cy="307.3" r="2.1" fill="#4747a6"/><circle cx="116.5" cy="314.6" r="2.1" fill="#4747a6"/><circle cx="129.7" cy="347.1" r="2.1" fill="#4747a6"/><circle cx="93.5" cy="345.4" r="2.1" fill="#4747a6"/><circle cx="107" cy="322.7" r="2.1" fill="#4747a6"/><circle cx="116.5" cy="356.4" r="2.1" fill="#4aee4a"/><circle cx="114" cy="312.4" r="2.1" fill="#4747a6"/><circle cx="82.8" cy="387.5" r="2.1" fill="#4747a6"/><circle cx="123.4" cy="315.8" r="2.1" fill="#4747a6"/><circle cx="139.3" cy="366.7" r="2.1" fill="#4747a6"/><circle cx="117.9" cy="312.9" r="2.1" fill="#4747a6"/><circle cx="113.8" cy="356.4" r="2.1" fill="#4747a6"/><circle cx="128" cy="366.7" r="2.1" fill="#4747a6"/><circle cx="94.5" cy="342.5" r="2.1" fill="#4747a6"/><circle cx="135.2" cy="335.1" r="2.1" fill="#4747a6"/><circle cx="85.8" cy="371.6" r="2.1" fill="#4747a6"/><circle cx="97.9" cy="336.6" r="2.1" fill="#4747a6"/><circle cx="131.4" cy="342.8" r="2.1" fill="#4747a6"/><circle cx="119.4" cy="310.2" r="2.1" fill="#4747a6"/><circle cx="112.1" cy="313.9" r="1.8" fill="#e38a4a"/><circle cx="111" cy="361.6" r="2.1" fill="#4747a6"/><circle cx="163.1" cy="384.4" r="2.1" fill="#e38a4a"/><circle cx="79.2" cy="373.1" r="2.1" fill="#4747a6"/><circle cx="106.7" cy="343.2" r="2.1" fill="#4747a6"/><circle cx="104.8" cy="326.1" r="2.1" fill="#4747a6"/><circle cx="87.2" cy="356.4" r="2.1" fill="#4747a6"/><circle cx="136.8" cy="361.1" r="2.1" fill="#4747a6"/><circle cx="98.5" cy="339.2" r="2.1" fill="#4747a6"/><circle cx="91.1" cy="350.5" r="2.1" fill="#4747a6"/></g>
<polygon points="117.94,304.76 30.14,439.23 205.24,438.25" fill="none" stroke="#111" stroke-width="1.4" stroke-linejoin="miter"/>
<polyline points="117.88,511.62 30.14,439.23 12.06,310.54 117.94,304.76 223.07,310.19 205.24,438.25 117.88,511.62" fill="none" stroke="#111" stroke-width="1.3" stroke-linejoin="miter"/>
<g><circle cx="30.33" cy="439.08" r="1.61" fill="#cfcfcf"/><circle cx="30.64" cy="438.81" r="1.63" fill="#cfcfcf"/><circle cx="30.45" cy="438.21" r="1.65" fill="#cfcfcf"/><circle cx="31.4" cy="438.54" r="1.67" fill="#cfcfcf"/><circle cx="31.7" cy="438.24" r="1.69" fill="#cfcfcf"/><circle cx="31.87" cy="437.78" r="1.71" fill="#cfcfcf"/><circle cx="32.75" cy="439.22" r="1.73" fill="#cfcfcf"/><circle cx="32.72" cy="437.6" r="1.75" fill="#cfcfcf"/><circle cx="32.64" cy="436.83" r="1.77" fill="#cfcfcf"/><circle cx="32.09" cy="435.88" r="1.79" fill="#cfcfcf"/><circle cx="30.32" cy="439.15" r="1.5" fill="#cfcfcf"/><circle cx="30.64" cy="439.02" r="1.51" fill="#cfcfcf"/><circle cx="31" cy="439.09" r="1.52" fill="#cfcfcf"/><circle cx="30.97" cy="438.31" r="1.53" fill="#cfcfcf"/><circle cx="31.33" cy="438.19" r="1.54" fill="#cfcfcf"/><circle cx="32.02" cy="439.08" r="1.55" fill="#cfcfcf"/><circle cx="31.39" cy="437.33" r="1.56" fill="#cfcfcf"/><circle cx="31.61" cy="437.07" r="1.57" fill="#cfcfcf"/><circle cx="32.45" cy="437.4" r="1.58" fill="#cfcfcf"/><circle cx="32.79" cy="437.29" r="1.59" fill="#cfcfcf"/><circle cx="33.68" cy="438.59" r="1.6" fill="#cfcfcf"/><circle cx="34.06" cy="439.09" r="1.61" fill="#cfcfcf"/><circle cx="33.83" cy="437.01" r="1.62" fill="#cfcfcf"/><circle cx="34.73" cy="438.87" r="1.64" fill="#cfcfcf"/><circle cx="34.99" cy="438.21" r="1.65" fill="#cfcfcf"/><circle cx="35.27" cy="437.88" r="1.66" fill="#cfcfcf"/><circle cx="35.76" cy="438.97" r="1.67" fill="#cfcfcf"/><circle cx="35.48" cy="436.49" r="1.68" fill="#cfcfcf"/><circle cx="35.85" cy="436.46" r="1.69" fill="#cfcfcf"/><circle cx="34.58" cy="434.2" r="1.7" fill="#cfcfcf"/><circle cx="36.21" cy="435.69" r="1.71" fill="#cfcfcf"/><circle cx="36.03" cy="434.78" r="1.72" fill="#cfcfcf"/><circle cx="36.87" cy="435.48" r="1.73" fill="#cfcfcf"/><circle cx="36.47" cy="434.23" r="1.73" fill="#cfcfcf"/><circle cx="37.63" cy="435.46" r="1.75" fill="#cfcfcf"/><circle cx="38.49" cy="436.75" r="1.75" fill="#cfcfcf"/><circle cx="35.07" cy="431.57" r="1.77" fill="#cfcfcf"/><circle cx="35.28" cy="431.3" r="1.77" fill="#cfcfcf"/><circle cx="36.65" cy="431.93" r="1.78" fill="#cfcfcf"/><circle cx="37.79" cy="432.62" r="1.79" fill="#cfcfcf"/><circle cx="40.01" cy="435.91" r="1.8" fill="#cfcfcf"/><circle cx="40.58" cy="436.68" r="1.81" fill="#cfcfcf"/><circle cx="40.75" cy="435.97" r="1.82" fill="#cfcfcf"/><circle cx="41.51" cy="438.31" r="1.83" fill="#cfcfcf"/><circle cx="38.63" cy="431" r="1.84" fill="#cfcfcf"/><circle cx="41.28" cy="434.42" r="1.85" fill="#cfcfcf"/><circle cx="38.41" cy="429.84" r="1.86" fill="#cfcfcf"/><circle cx="41.97" cy="434.31" r="1.88" fill="#cfcfcf"/><circle cx="37.73" cy="428.42" r="1.89" fill="#cfcfcf"/><circle cx="39.08" cy="429.07" r="1.9" fill="#cfcfcf"/><circle cx="43.92" cy="439.08" r="1.91" fill="#cfcfcf"/><circle cx="43.95" cy="436.17" r="1.92" fill="#cfcfcf"/><circle cx="39.07" cy="427.72" r="1.93" fill="#cfcfcf"/><circle cx="43.35" cy="432.42" r="1.94" fill="#cfcfcf"/><circle cx="38.64" cy="426.56" r="1.95" fill="#cfcfcf"/><circle cx="44.43" cy="433.12" r="1.96" fill="#cfcfcf"/><circle cx="45.92" cy="437.93" r="1.97" fill="#cfcfcf"/><circle cx="43.24" cy="429.61" r="1.98" fill="#cfcfcf"/><circle cx="41.94" cy="427.54" r="1.98" fill="#cfcfcf"/><circle cx="46.38" cy="434.61" r="2" fill="#cfcfcf"/><circle cx="30.65" cy="439.18" r="1.41" fill="#cfcfcf"/><circle cx="31.65" cy="439.17" r="1.42" fill="#cfcfcf"/><circle cx="32.65" cy="439.05" r="1.44" fill="#cfcfcf"/><circle cx="33.65" cy="439.06" r="1.46" fill="#cfcfcf"/><circle cx="34.65" cy="439.23" r="1.47" fill="#cfcfcf"/><circle cx="35.65" cy="439.19" r="1.49" fill="#cfcfcf"/><circle cx="36.65" cy="439.26" r="1.5" fill="#cfcfcf"/><circle cx="37.65" cy="439.29" r="1.52" fill="#cfcfcf"/><circle cx="38.65" cy="438.87" r="1.54" fill="#cfcfcf"/><circle cx="39.65" cy="439.25" r="1.55" fill="#cfcfcf"/><circle cx="40.65" cy="438.98" r="1.57" fill="#cfcfcf"/><circle cx="41.65" cy="439.05" r="1.58" fill="#cfcfcf"/><circle cx="42.65" cy="439.26" r="1.6" fill="#cfcfcf"/><circle cx="43.65" cy="438.76" r="1.62" fill="#cfcfcf"/><circle cx="44.65" cy="439.33" r="1.63" fill="#cfcfcf"/><circle cx="45.65" cy="438.79" r="1.65" fill="#cfcfcf"/><circle cx="46.65" cy="439.37" r="1.66" fill="#cfcfcf"/><circle cx="47.65" cy="439.01" r="1.68" fill="#cfcfcf"/><circle cx="48.65" cy="439.27" r="1.7" fill="#cfcfcf"/><circle cx="49.65" cy="439.2" r="1.71" fill="#cfcfcf"/><circle cx="50.63" cy="438.2" r="1.73" fill="#cfcfcf"/><circle cx="51.64" cy="438.4" r="1.74" fill="#cfcfcf"/><circle cx="52.65" cy="439.15" r="1.76" fill="#cfcfcf"/><circle cx="53.64" cy="438.2" r="1.78" fill="#cfcfcf"/><circle cx="54.65" cy="439.31" r="1.79" fill="#cfcfcf"/><circle cx="55.65" cy="438.99" r="1.81" fill="#cfcfcf"/><circle cx="56.64" cy="438.13" r="1.82" fill="#cfcfcf"/><circle cx="57.65" cy="438.5" r="1.84" fill="#cfcfcf"/><circle cx="58.64" cy="439.55" r="1.86" fill="#cfcfcf"/><circle cx="59.62" cy="437.74" r="1.87" fill="#cfcfcf"/><circle cx="60.65" cy="439.34" r="1.89" fill="#cfcfcf"/><circle cx="61.65" cy="439.25" r="1.9" fill="#cfcfcf"/><circle cx="62.64" cy="438.08" r="1.92" fill="#cfcfcf"/><circle cx="63.65" cy="439.09" r="1.94" fill="#cfcfcf"/><circle cx="64.65" cy="439.16" r="1.95" fill="#cfcfcf"/><circle cx="65.64" cy="439.72" r="1.97" fill="#cfcfcf"/><circle cx="66.64" cy="439.69" r="1.98" fill="#cfcfcf"/><circle cx="67.65" cy="438.41" r="2" fill="#cfcfcf"/><circle cx="68.65" cy="439.31" r="2.02" fill="#cfcfcf"/><circle cx="69.65" cy="438.32" r="2.03" fill="#cfcfcf"/><circle cx="70.65" cy="438.95" r="2.05" fill="#cfcfcf"/><circle cx="71.65" cy="438.71" r="2.06" fill="#cfcfcf"/><circle cx="72.61" cy="437.2" r="2.08" fill="#cfcfcf"/><circle cx="73.65" cy="438.59" r="2.1" fill="#cfcfcf"/><circle cx="74.65" cy="438.3" r="2.11" fill="#cfcfcf"/><circle cx="75.62" cy="437.35" r="2.13" fill="#cfcfcf"/><circle cx="76.65" cy="439.53" r="2.14" fill="#cfcfcf"/><circle cx="77.64" cy="439.63" r="2.16" fill="#cfcfcf"/><circle cx="78.62" cy="437.09" r="2.18" fill="#cfcfcf"/><circle cx="79.63" cy="437.36" r="2.19" fill="#cfcfcf"/></g>
<g><circle cx="51.5" cy="437.5" r="2.1" fill="#cfcfcf"/><circle cx="30.2" cy="438.2" r="1.8" fill="#cfcfcf"/><circle cx="33.2" cy="437.8" r="2.1" fill="#cfcfcf"/><circle cx="36.8" cy="438.2" r="2.1" fill="#cfcfcf"/><circle cx="39.8" cy="438.2" r="2.1" fill="#cfcfcf"/><circle cx="43.4" cy="438.6" r="2.1" fill="#cfcfcf"/><circle cx="46.4" cy="438.6" r="2.1" fill="#cfcfcf"/><circle cx="49.3" cy="438.6" r="2.1" fill="#cfcfcf"/><circle cx="52.9" cy="438.6" r="2.1" fill="#cfcfcf"/><circle cx="55.9" cy="438.6" r="2.1" fill="#cfcfcf"/><circle cx="71.2" cy="438.6" r="2.1" fill="#cfcfcf"/><circle cx="74.9" cy="438.6" r="2.1" fill="#cfcfcf"/><circle cx="77.8" cy="438.6" r="2.1" fill="#cfcfcf"/><circle cx="135.6" cy="438.9" r="2.1" fill="#cfcfcf"/><circle cx="138.6" cy="438.9" r="2.1" fill="#cfcfcf"/><circle cx="158.9" cy="438.9" r="2.1" fill="#cfcfcf"/><circle cx="167" cy="438.9" r="2.1" fill="#cfcfcf"/><circle cx="177.2" cy="438.6" r="2.1" fill="#de5d06"/><circle cx="91.7" cy="438.6" r="2.1" fill="#de5d06"/><circle cx="106.4" cy="396.7" r="2.1" fill="#26f026"/><circle cx="190.4" cy="438.6" r="2.1" fill="#de5d06"/><circle cx="63.8" cy="388.2" r="2.1" fill="#00008b"/><circle cx="174.3" cy="438.6" r="2.1" fill="#de5d06"/><circle cx="125.4" cy="438.6" r="2.1" fill="#de5d06"/><circle cx="106.4" cy="407.4" r="2.1" fill="#26f026"/><circle cx="89.3" cy="438.6" r="2.1" fill="#de5d06"/><circle cx="184.5" cy="425" r="2.1" fill="#de5d06"/><circle cx="187" cy="426.5" r="2.1" fill="#de5d06"/><circle cx="116.6" cy="392.3" r="2.1" fill="#26f026"/><circle cx="184.5" cy="438.6" r="2.1" fill="#de5d06"/><circle cx="179" cy="401.1" r="2.1" fill="#de5d06"/><circle cx="108.6" cy="405.5" r="2.1" fill="#26f026"/><circle cx="86.5" cy="396" r="2.1" fill="#00008b"/><circle cx="179.2" cy="399.7" r="2.1" fill="#de5d06"/><circle cx="93.9" cy="412.8" r="2.1" fill="#26f026"/><circle cx="200.6" cy="438.6" r="2.1" fill="#de5d06"/><circle cx="141.2" cy="422.5" r="2.1" fill="#00008b"/><circle cx="180.1" cy="438.6" r="2.1" fill="#de5d06"/><circle cx="59.8" cy="397.4" r="2.1" fill="#00008b"/><circle cx="163.3" cy="438.6" r="2.1" fill="#de5d06"/><circle cx="103.1" cy="402.6" r="2.1" fill="#26f026"/><circle cx="145.9" cy="419.9" r="2.1" fill="#00008b"/><circle cx="154.5" cy="438.2" r="2.1" fill="#de5d06"/><circle cx="111.5" cy="436.4" r="2.1" fill="#00008b"/><circle cx="110.5" cy="423.8" r="2.1" fill="#26f026"/><circle cx="98.3" cy="414.3" r="2.1" fill="#26f026"/><circle cx="202.8" cy="438.9" r="2.1" fill="#de5d06"/><circle cx="127.6" cy="434.2" r="2.1" fill="#de5d06"/><circle cx="115.9" cy="403.3" r="2.1" fill="#26f026"/><circle cx="100.1" cy="391.6" r="2.1" fill="#26f026"/><circle cx="117.5" cy="304.8" r="1.9" fill="#2b2b94"/><circle cx="73" cy="416.7" r="2.1" fill="#00008b"/><circle cx="171.4" cy="438.6" r="2.1" fill="#de5d06"/><circle cx="155.2" cy="436.7" r="2.1" fill="#de5d06"/><circle cx="118.4" cy="418.4" r="2.1" fill="#00008b"/><circle cx="187.5" cy="438.6" r="2.1" fill="#de5d06"/><circle cx="162.6" cy="390.1" r="2.1" fill="#de5d06"/><circle cx="98.3" cy="437.5" r="2.1" fill="#de5d06"/><circle cx="105.6" cy="391.3" r="2.1" fill="#26f026"/><circle cx="115.9" cy="389.8" r="2.1" fill="#26f026"/><circle cx="147.3" cy="438.6" r="2.1" fill="#de5d06"/><circle cx="150" cy="438.6" r="2.1" fill="#de5d06"/><circle cx="149.5" cy="396.3" r="2.1" fill="#de5d06"/><circle cx="63.4" cy="391.9" r="2.1" fill="#00008b"/><circle cx="96.1" cy="438.6" r="2.1" fill="#de5d06"/><circle cx="117.8" cy="394.5" r="2.1" fill="#26f026"/><circle cx="58.4" cy="437.2" r="2.1" fill="#00008b"/><circle cx="108.1" cy="397.5" r="2.1" fill="#26f026"/><circle cx="90" cy="412.6" r="2.1" fill="#26f026"/><circle cx="140" cy="417" r="2.1" fill="#de5d06"/><circle cx="55.3" cy="402.1" r="2.1" fill="#00008b"/><circle cx="116.6" cy="438.6" r="2.1" fill="#de5d06"/><circle cx="116.6" cy="397.5" r="2.1" fill="#26f026"/><circle cx="104.9" cy="438.6" r="2.1" fill="#de5d06"/><circle cx="43.4" cy="419.9" r="2.1" fill="#00008b"/><circle cx="41.7" cy="436" r="2.1" fill="#00008b"/><circle cx="131" cy="430.9" r="2.1" fill="#de5d06"/><circle cx="42.7" cy="429.4" r="2.1" fill="#00008b"/><circle cx="197.7" cy="438.6" r="2.1" fill="#de5d06"/><circle cx="119.5" cy="438.6" r="2.1" fill="#de5d06"/><circle cx="174" cy="407.4" r="2.1" fill="#de5d06"/><circle cx="136.8" cy="402.6" r="2.1" fill="#00008b"/><circle cx="64.4" cy="438.6" r="2.1" fill="#de5d06"/><circle cx="67.5" cy="382.3" r="2.1" fill="#00008b"/><circle cx="108.6" cy="392.8" r="2.1" fill="#26f026"/><circle cx="122.5" cy="438.6" r="2.1" fill="#de5d06"/><circle cx="112.9" cy="438.9" r="2.1" fill="#de5d06"/><circle cx="66.9" cy="425.5" r="2.1" fill="#00008b"/><circle cx="36.1" cy="436.7" r="1.1" fill="#de5d06"/><circle cx="61.6" cy="394" r="2.1" fill="#00008b"/><circle cx="48.3" cy="412.9" r="2.1" fill="#00008b"/><circle cx="99" cy="409.5" r="2.1" fill="#26f026"/><circle cx="131.2" cy="438.6" r="2.1" fill="#de5d06"/><circle cx="144.4" cy="438.6" r="2.1" fill="#de5d06"/><circle cx="115.1" cy="401.1" r="2.1" fill="#26f026"/><circle cx="116.6" cy="355.7" r="2.1" fill="#26f026"/><circle cx="90" cy="407.4" r="2.1" fill="#00008b"/><circle cx="117.3" cy="402.1" r="2.1" fill="#26f026"/><circle cx="118.4" cy="389.4" r="2.1" fill="#26f026"/><circle cx="195.5" cy="437.8" r="2.1" fill="#de5d06"/><circle cx="141.5" cy="438.6" r="2.1" fill="#de5d06"/><circle cx="42.4" cy="421.4" r="2.1" fill="#00008b"/><circle cx="118.1" cy="398.9" r="2.1" fill="#26f026"/><circle cx="114.8" cy="425.7" r="2.1" fill="#00008b"/><circle cx="128.3" cy="438.6" r="2.1" fill="#de5d06"/><circle cx="84.4" cy="416.7" r="2.1" fill="#26f026"/><circle cx="110" cy="438.2" r="2.1" fill="#de5d06"/><circle cx="122.9" cy="429.4" r="2.1" fill="#00008b"/><circle cx="75.5" cy="391.6" r="2.1" fill="#00008b"/><circle cx="121.4" cy="409.9" r="2.1" fill="#00008b"/></g>
<g><circle cx="44" cy="430.8" r="1.6" fill="#d1d1d1"/><circle cx="43" cy="437.4" r="1.7" fill="#d1d1d1"/><circle cx="40.6" cy="434.8" r="1.4" fill="#d1d1d1"/><circle cx="45.5" cy="434.2" r="1.3" fill="#d1d1d1"/></g>
<line x1="24.8" y1="438" x2="6.92" y2="316.83" stroke="#111" stroke-width="1.2"/><polygon points="5.9,309.9 9,317.53 5.14,318.1" fill="#111"/>
<line x1="26.9" y1="443.3" x2="109.2" y2="514.42" stroke="#111" stroke-width="1.2"/><polygon points="114.5,519 107.17,515.24 109.72,512.29" fill="#111"/>
<line x1="208.9" y1="443.3" x2="126.69" y2="514.42" stroke="#111" stroke-width="1.2"/><polygon points="121.4,519 126.17,512.29 128.73,515.24" fill="#111"/>
<text transform="translate(8.1,390.7) rotate(82.2) skewX(-8)" text-anchor="middle" class="ax">Rainforest</text>
<text transform="translate(64.3,491.7) rotate(40.8)" text-anchor="middle" class="ax">Mixed Forest</text>
<text transform="translate(179.8,483.4) rotate(-40.8)" text-anchor="middle" class="ax">Euc</text>
<text x="113" y="291.1" text-anchor="middle" class="ti">c. LiDAR</text>
</g>
<g id="pd">
<g><line x1="350.28" y1="407.99" x2="348.11" y2="305.73" stroke="#bdbdbd" stroke-width="1.2"/><line x1="364.15" y1="384.7" x2="273.24" y2="417.23" stroke="#bdbdbd" stroke-width="1.2"/><line x1="377.99" y1="407.86" x2="380.13" y2="305.68" stroke="#bdbdbd" stroke-width="1.2"/><line x1="364.15" y1="384.7" x2="454.5" y2="416.34" stroke="#bdbdbd" stroke-width="1.2"/><line x1="350.28" y1="407.99" x2="438.93" y2="448.86" stroke="#bdbdbd" stroke-width="1.2"/><line x1="377.99" y1="407.86" x2="288.96" y2="449.74" stroke="#bdbdbd" stroke-width="1.2"/><line x1="334.88" y1="414.52" x2="330.02" y2="306.72" stroke="#bdbdbd" stroke-width="1.2"/><line x1="364.14" y1="366.36" x2="269.91" y2="393.51" stroke="#bdbdbd" stroke-width="1.2"/><line x1="393.35" y1="414.23" x2="398.16" y2="306.61" stroke="#bdbdbd" stroke-width="1.2"/><line x1="364.14" y1="366.36" x2="457.79" y2="392.72" stroke="#bdbdbd" stroke-width="1.2"/><line x1="334.88" y1="414.52" x2="424.51" y2="460.97" stroke="#bdbdbd" stroke-width="1.2"/><line x1="393.35" y1="414.23" x2="303.49" y2="461.72" stroke="#bdbdbd" stroke-width="1.2"/><line x1="317.66" y1="421.81" x2="309.41" y2="307.84" stroke="#bdbdbd" stroke-width="1.2"/><line x1="364.14" y1="346.99" x2="266.32" y2="367.98" stroke="#bdbdbd" stroke-width="1.2"/><line x1="410.48" y1="421.34" x2="418.65" y2="307.67" stroke="#bdbdbd" stroke-width="1.2"/><line x1="364.14" y1="346.99" x2="461.33" y2="367.32" stroke="#bdbdbd" stroke-width="1.2"/><line x1="317.66" y1="421.81" x2="407.7" y2="475.08" stroke="#bdbdbd" stroke-width="1.2"/><line x1="410.48" y1="421.34" x2="320.38" y2="475.66" stroke="#bdbdbd" stroke-width="1.2"/><line x1="298.3" y1="430.02" x2="285.74" y2="309.14" stroke="#bdbdbd" stroke-width="1.2"/><line x1="364.14" y1="326.52" x2="262.45" y2="340.44" stroke="#bdbdbd" stroke-width="1.2"/><line x1="429.7" y1="429.33" x2="442.11" y2="308.88" stroke="#bdbdbd" stroke-width="1.2"/><line x1="364.14" y1="326.52" x2="465.14" y2="339.92" stroke="#bdbdbd" stroke-width="1.2"/><line x1="298.3" y1="430.02" x2="387.86" y2="491.75" stroke="#bdbdbd" stroke-width="1.2"/><line x1="429.7" y1="429.33" x2="340.29" y2="492.09" stroke="#bdbdbd" stroke-width="1.2"/></g>
<polygon points="364.14,304.86 276.34,439.33 451.44,438.35" fill="#dbdbdb" fill-opacity="0.64" stroke="none"/>
<line x1="364.15" y1="402.11" x2="364.14" y2="304.86" stroke="#8a8a8a" stroke-width="1.7"/><line x1="364.15" y1="402.11" x2="276.34" y2="439.33" stroke="#4a4a4a" stroke-width="1.3"/><line x1="364.15" y1="402.11" x2="451.44" y2="438.35" stroke="#4a4a4a" stroke-width="1.3"/>
<g><circle cx="387.2" cy="406.4" r="2.1" fill="#d3d3d3"/><circle cx="347" cy="371.2" r="2.1" fill="#d3d3d3"/><circle cx="330.9" cy="376.4" r="2.1" fill="#d3d3d3"/><circle cx="343.3" cy="424" r="2.1" fill="#d3d3d3"/><circle cx="331.6" cy="435.3" r="2.1" fill="#d3d3d3"/><circle cx="331.6" cy="415.5" r="2.1" fill="#d3d3d3"/><circle cx="327.9" cy="436" r="2.1" fill="#d3d3d3"/><circle cx="284" cy="436" r="1.6" fill="#d3d3d3"/><circle cx="288.4" cy="435.3" r="2.1" fill="#d3d3d3"/><circle cx="292" cy="433.4" r="2.1" fill="#d3d3d3"/><circle cx="296.4" cy="422.1" r="2.1" fill="#d3d3d3"/><circle cx="294.2" cy="411.1" r="2.1" fill="#d3d3d3"/><circle cx="370.3" cy="315.8" r="2.1" fill="#4747a6"/><circle cx="382" cy="334" r="2.1" fill="#4747a6"/><circle cx="365.1" cy="315.4" r="2.1" fill="#4747a6"/><circle cx="392.7" cy="361.2" r="2.1" fill="#e38a4a"/><circle cx="327.6" cy="381.5" r="2.1" fill="#4747a6"/><circle cx="368.8" cy="322.3" r="2.1" fill="#4747a6"/><circle cx="360" cy="312" r="2.1" fill="#4747a6"/><circle cx="362.9" cy="325.2" r="2.1" fill="#4747a6"/><circle cx="357.8" cy="352.7" r="2.1" fill="#4747a6"/><circle cx="349.8" cy="328.6" r="2.1" fill="#4747a6"/><circle cx="382" cy="342.9" r="2.1" fill="#4747a6"/><circle cx="365.1" cy="308.1" r="2.1" fill="#4747a6"/><circle cx="386.4" cy="352.7" r="2.1" fill="#e38a4a"/><circle cx="414.7" cy="383.2" r="2.1" fill="#e38a4a"/><circle cx="347.9" cy="330.7" r="2.1" fill="#4747a6"/><circle cx="376.9" cy="343.9" r="2.1" fill="#4747a6"/><circle cx="366.6" cy="310.2" r="2.1" fill="#4747a6"/><circle cx="362.9" cy="307.3" r="2.1" fill="#4747a6"/><circle cx="367.3" cy="314.3" r="2.1" fill="#4747a6"/><circle cx="379.6" cy="369.3" r="2.1" fill="#4747a6"/><circle cx="375.4" cy="330" r="2.1" fill="#4747a6"/><circle cx="354.2" cy="322.7" r="2.1" fill="#4747a6"/><circle cx="323" cy="384.3" r="2.1" fill="#4747a6"/><circle cx="372.5" cy="317.3" r="2.1" fill="#4747a6"/><circle cx="363.4" cy="316.4" r="2.1" fill="#4747a6"/><circle cx="365.9" cy="312.4" r="2.1" fill="#4747a6"/><circle cx="386.5" cy="383.7" r="2.1" fill="#4747a6"/><circle cx="378.3" cy="326.4" r="2.1" fill="#4747a6"/><circle cx="393" cy="359.7" r="2.1" fill="#e38a4a"/><circle cx="352.3" cy="334" r="2.1" fill="#4747a6"/><circle cx="384.3" cy="362.9" r="2.1" fill="#4747a6"/><circle cx="361.5" cy="310.2" r="2.1" fill="#4747a6"/><circle cx="416.3" cy="388.6" r="2.1" fill="#e38a4a"/><circle cx="360" cy="338.8" r="2.1" fill="#4aee4a"/><circle cx="353.4" cy="324.9" r="2.1" fill="#4747a6"/><circle cx="375.8" cy="341.7" r="2.1" fill="#4747a6"/><circle cx="374.7" cy="323.4" r="2.1" fill="#4747a6"/><circle cx="377.6" cy="332.5" r="2.1" fill="#4747a6"/></g>
<polygon points="364.14,304.86 276.34,439.33 451.44,438.35" fill="none" stroke="#111" stroke-width="1.4" stroke-linejoin="miter"/>
<polyline points="364.08,511.72 276.34,439.33 258.26,310.64 364.14,304.86 469.27,310.29 451.44,438.35 364.08,511.72" fill="none" stroke="#111" stroke-width="1.3" stroke-linejoin="miter"/>
<g><circle cx="276.53" cy="439.18" r="1.61" fill="#cfcfcf"/><circle cx="276.84" cy="438.91" r="1.63" fill="#cfcfcf"/><circle cx="276.65" cy="438.31" r="1.65" fill="#cfcfcf"/><circle cx="277.6" cy="438.64" r="1.67" fill="#cfcfcf"/><circle cx="277.9" cy="438.34" r="1.69" fill="#cfcfcf"/><circle cx="278.07" cy="437.88" r="1.71" fill="#cfcfcf"/><circle cx="278.95" cy="439.32" r="1.73" fill="#cfcfcf"/><circle cx="278.92" cy="437.7" r="1.75" fill="#cfcfcf"/><circle cx="278.84" cy="436.93" r="1.77" fill="#cfcfcf"/><circle cx="278.29" cy="435.98" r="1.79" fill="#cfcfcf"/><circle cx="276.54" cy="439.26" r="1.51" fill="#cfcfcf"/><circle cx="276.9" cy="439.15" r="1.52" fill="#cfcfcf"/><circle cx="277.29" cy="439.21" r="1.53" fill="#cfcfcf"/><circle cx="277.46" cy="438.56" r="1.54" fill="#cfcfcf"/><circle cx="277.84" cy="438.47" r="1.56" fill="#cfcfcf"/><circle cx="278.41" cy="439.2" r="1.57" fill="#cfcfcf"/><circle cx="278.24" cy="437.71" r="1.58" fill="#cfcfcf"/><circle cx="278.55" cy="437.5" r="1.59" fill="#cfcfcf"/><circle cx="279.21" cy="437.85" r="1.61" fill="#cfcfcf"/><circle cx="279.59" cy="437.77" r="1.62" fill="#cfcfcf"/><circle cx="280.26" cy="438.82" r="1.63" fill="#cfcfcf"/><circle cx="280.66" cy="439.2" r="1.64" fill="#cfcfcf"/><circle cx="280.72" cy="437.55" r="1.66" fill="#cfcfcf"/><circle cx="281.41" cy="439.03" r="1.67" fill="#cfcfcf"/><circle cx="281.74" cy="438.52" r="1.68" fill="#cfcfcf"/><circle cx="282.08" cy="438.26" r="1.69" fill="#cfcfcf"/><circle cx="282.54" cy="439.1" r="1.71" fill="#cfcfcf"/><circle cx="282.57" cy="437.14" r="1.72" fill="#cfcfcf"/><circle cx="282.96" cy="437.13" r="1.73" fill="#cfcfcf"/><circle cx="282.43" cy="435.17" r="1.74" fill="#cfcfcf"/><circle cx="283.54" cy="436.5" r="1.76" fill="#cfcfcf"/><circle cx="283.62" cy="435.74" r="1.77" fill="#cfcfcf"/><circle cx="284.28" cy="436.34" r="1.78" fill="#cfcfcf"/><circle cx="284.24" cy="435.29" r="1.79" fill="#cfcfcf"/><circle cx="285.07" cy="436.33" r="1.81" fill="#cfcfcf"/><circle cx="285.73" cy="437.37" r="1.82" fill="#cfcfcf"/><circle cx="283.97" cy="432.84" r="1.83" fill="#cfcfcf"/><circle cx="284.27" cy="432.61" r="1.84" fill="#cfcfcf"/><circle cx="285.25" cy="433.29" r="1.86" fill="#cfcfcf"/><circle cx="286.09" cy="433.96" r="1.87" fill="#cfcfcf"/><circle cx="287.51" cy="436.71" r="1.88" fill="#cfcfcf"/><circle cx="288.01" cy="437.32" r="1.89" fill="#cfcfcf"/><circle cx="288.29" cy="436.76" r="1.91" fill="#cfcfcf"/><circle cx="288.9" cy="438.58" r="1.92" fill="#cfcfcf"/><circle cx="287.48" cy="432.6" r="1.93" fill="#cfcfcf"/><circle cx="289.15" cy="435.52" r="1.94" fill="#cfcfcf"/><circle cx="287.72" cy="431.57" r="1.96" fill="#cfcfcf"/><circle cx="289.9" cy="435.44" r="1.97" fill="#cfcfcf"/><circle cx="287.68" cy="430.24" r="1.98" fill="#cfcfcf"/><circle cx="288.65" cy="430.93" r="1.99" fill="#cfcfcf"/><circle cx="276.73" cy="439.28" r="1.41" fill="#cfcfcf"/><circle cx="277.5" cy="439.27" r="1.42" fill="#cfcfcf"/><circle cx="278.26" cy="439.14" r="1.43" fill="#cfcfcf"/><circle cx="279.03" cy="439.2" r="1.45" fill="#cfcfcf"/><circle cx="279.79" cy="439.02" r="1.46" fill="#cfcfcf"/><circle cx="280.57" cy="439.2" r="1.47" fill="#cfcfcf"/><circle cx="281.33" cy="439.34" r="1.49" fill="#cfcfcf"/><circle cx="282.1" cy="439.04" r="1.5" fill="#cfcfcf"/><circle cx="282.86" cy="438.92" r="1.51" fill="#cfcfcf"/><circle cx="283.63" cy="439.23" r="1.53" fill="#cfcfcf"/><circle cx="284.4" cy="439.37" r="1.54" fill="#cfcfcf"/><circle cx="285.17" cy="439.17" r="1.55" fill="#cfcfcf"/><circle cx="285.91" cy="438.58" r="1.57" fill="#cfcfcf"/><circle cx="286.69" cy="438.73" r="1.58" fill="#cfcfcf"/><circle cx="287.47" cy="439.37" r="1.59" fill="#cfcfcf"/><circle cx="288.23" cy="439.23" r="1.61" fill="#cfcfcf"/><circle cx="289" cy="439.41" r="1.62" fill="#cfcfcf"/><circle cx="289.76" cy="439.47" r="1.63" fill="#cfcfcf"/><circle cx="290.52" cy="438.48" r="1.65" fill="#cfcfcf"/><circle cx="291.3" cy="439.32" r="1.66" fill="#cfcfcf"/><circle cx="292.06" cy="438.75" r="1.67" fill="#cfcfcf"/><circle cx="292.83" cy="438.9" r="1.69" fill="#cfcfcf"/><circle cx="293.6" cy="439.31" r="1.7" fill="#cfcfcf"/><circle cx="294.35" cy="438.37" r="1.71" fill="#cfcfcf"/><circle cx="295.13" cy="439.42" r="1.73" fill="#cfcfcf"/><circle cx="295.89" cy="438.46" r="1.74" fill="#cfcfcf"/><circle cx="296.66" cy="439.46" r="1.75" fill="#cfcfcf"/><circle cx="297.43" cy="438.85" r="1.77" fill="#cfcfcf"/><circle cx="298.2" cy="439.27" r="1.78" fill="#cfcfcf"/><circle cx="298.97" cy="439.15" r="1.79" fill="#cfcfcf"/><circle cx="299.68" cy="437.57" r="1.81" fill="#cfcfcf"/><circle cx="300.47" cy="437.9" r="1.82" fill="#cfcfcf"/><circle cx="301.27" cy="439.05" r="1.83" fill="#cfcfcf"/><circle cx="301.99" cy="437.62" r="1.85" fill="#cfcfcf"/><circle cx="302.8" cy="439.28" r="1.86" fill="#cfcfcf"/><circle cx="303.56" cy="438.8" r="1.87" fill="#cfcfcf"/><circle cx="304.29" cy="437.55" r="1.89" fill="#cfcfcf"/><circle cx="305.08" cy="438.09" r="1.9" fill="#cfcfcf"/><circle cx="305.86" cy="439.59" r="1.91" fill="#cfcfcf"/><circle cx="306.56" cy="437.02" r="1.93" fill="#cfcfcf"/><circle cx="307.4" cy="439.27" r="1.94" fill="#cfcfcf"/><circle cx="308.17" cy="439.13" r="1.95" fill="#cfcfcf"/><circle cx="308.9" cy="437.52" r="1.97" fill="#cfcfcf"/><circle cx="309.7" cy="438.9" r="1.98" fill="#cfcfcf"/><circle cx="310.47" cy="439" r="1.99" fill="#cfcfcf"/><circle cx="311.23" cy="439.74" r="2.01" fill="#cfcfcf"/><circle cx="311.99" cy="439.69" r="2.02" fill="#cfcfcf"/><circle cx="312.75" cy="437.98" r="2.03" fill="#cfcfcf"/><circle cx="313.53" cy="439.16" r="2.05" fill="#cfcfcf"/><circle cx="314.28" cy="437.86" r="2.06" fill="#cfcfcf"/><circle cx="315.06" cy="438.68" r="2.07" fill="#cfcfcf"/><circle cx="315.83" cy="438.36" r="2.09" fill="#cfcfcf"/><circle cx="316.51" cy="436.39" r="2.1" fill="#cfcfcf"/><circle cx="317.36" cy="438.21" r="2.11" fill="#cfcfcf"/><circle cx="318.12" cy="437.82" r="2.13" fill="#cfcfcf"/><circle cx="318.83" cy="436.6" r="2.14" fill="#cfcfcf"/><circle cx="319.67" cy="439.4" r="2.15" fill="#cfcfcf"/><circle cx="320.43" cy="439.52" r="2.17" fill="#cfcfcf"/><circle cx="321.12" cy="436.28" r="2.18" fill="#cfcfcf"/><circle cx="321.9" cy="436.62" r="2.19" fill="#cfcfcf"/></g>
<g><circle cx="345.5" cy="438.6" r="2.1" fill="#cfcfcf"/><circle cx="355" cy="438.2" r="2.1" fill="#cfcfcf"/><circle cx="379.9" cy="438.6" r="2.1" fill="#cfcfcf"/><circle cx="388" cy="438.6" r="2.1" fill="#cfcfcf"/><circle cx="390.9" cy="438.6" r="2.1" fill="#cfcfcf"/><circle cx="339.6" cy="438.6" r="2.1" fill="#cfcfcf"/><circle cx="276.6" cy="438.6" r="1.5" fill="#cfcfcf"/><circle cx="279.6" cy="438.5" r="1.8" fill="#cfcfcf"/><circle cx="282.5" cy="438.3" r="2.1" fill="#cfcfcf"/><circle cx="285.4" cy="438.2" r="2.1" fill="#cfcfcf"/><circle cx="288.4" cy="438.2" r="2.1" fill="#cfcfcf"/><circle cx="291.3" cy="438.2" r="2.1" fill="#cfcfcf"/><circle cx="294.2" cy="438.2" r="2.1" fill="#cfcfcf"/><circle cx="297.9" cy="438.5" r="2.1" fill="#cfcfcf"/><circle cx="300.8" cy="438.6" r="2.1" fill="#cfcfcf"/><circle cx="308.9" cy="438.6" r="2.1" fill="#cfcfcf"/><circle cx="319.8" cy="438.6" r="2.1" fill="#cfcfcf"/><circle cx="327.9" cy="438.6" r="2.1" fill="#cfcfcf"/><circle cx="394.4" cy="438.6" r="2.1" fill="#cfcfcf"/><circle cx="421.9" cy="429.4" r="2.1" fill="#de5d06"/><circle cx="330.9" cy="438.6" r="2.1" fill="#de5d06"/><circle cx="356.5" cy="406.4" r="2.1" fill="#26f026"/><circle cx="407.6" cy="438.2" r="2.1" fill="#de5d06"/><circle cx="364.5" cy="438.6" r="2.1" fill="#de5d06"/><circle cx="332.3" cy="415.5" r="2.1" fill="#26f026"/><circle cx="436.9" cy="438.2" r="2.1" fill="#de5d06"/><circle cx="439.8" cy="438.6" r="2.1" fill="#de5d06"/><circle cx="357.9" cy="438.9" r="2.1" fill="#de5d06"/><circle cx="430.3" cy="438.6" r="2.1" fill="#de5d06"/><circle cx="356.5" cy="438.6" r="2.1" fill="#de5d06"/><circle cx="356.5" cy="399" r="2.1" fill="#26f026"/><circle cx="370.4" cy="438.6" r="2.1" fill="#de5d06"/><circle cx="315.9" cy="438.6" r="2.1" fill="#de5d06"/><circle cx="360.9" cy="402.7" r="2.1" fill="#26f026"/><circle cx="445.6" cy="438.6" r="2.1" fill="#de5d06"/><circle cx="343.3" cy="438.9" r="2.1" fill="#de5d06"/><circle cx="399.1" cy="396.8" r="2.1" fill="#00008b"/><circle cx="442.7" cy="438.6" r="2.1" fill="#de5d06"/><circle cx="413.9" cy="401.6" r="2.1" fill="#00008b"/><circle cx="424.4" cy="400.1" r="2.1" fill="#de5d06"/><circle cx="363.8" cy="384.8" r="2.1" fill="#26f026"/><circle cx="373.3" cy="438.6" r="2.1" fill="#de5d06"/><circle cx="429.2" cy="425.5" r="2.1" fill="#de5d06"/><circle cx="312.8" cy="430.1" r="2.1" fill="#26f026"/><circle cx="355.7" cy="435.3" r="2.1" fill="#de5d06"/><circle cx="353.6" cy="396.9" r="2.1" fill="#26f026"/><circle cx="363.8" cy="369.8" r="2.1" fill="#26f026"/><circle cx="355.5" cy="403" r="2.1" fill="#00008b"/><circle cx="364" cy="304.5" r="1.9" fill="#2b2b94"/><circle cx="448.6" cy="438.6" r="2.1" fill="#de5d06"/><circle cx="330.8" cy="415.5" r="2.1" fill="#26f026"/><circle cx="437.6" cy="432.3" r="2.1" fill="#de5d06"/><circle cx="343.7" cy="436.7" r="2.1" fill="#de5d06"/><circle cx="375.5" cy="438.6" r="2.1" fill="#de5d06"/><circle cx="424.4" cy="438.6" r="2.1" fill="#de5d06"/><circle cx="427.3" cy="438.6" r="2.1" fill="#de5d06"/><circle cx="297.6" cy="430.1" r="2.1" fill="#26f026"/><circle cx="363.8" cy="398.3" r="2.1" fill="#26f026"/><circle cx="430.7" cy="430.9" r="2.1" fill="#de5d06"/><circle cx="309.6" cy="397.2" r="2.1" fill="#00008b"/><circle cx="363.8" cy="367.6" r="2.1" fill="#26f026"/><circle cx="343.3" cy="410.4" r="2.1" fill="#26f026"/><circle cx="333.8" cy="438.6" r="2.1" fill="#de5d06"/><circle cx="325.7" cy="417.7" r="2.1" fill="#26f026"/><circle cx="432" cy="411.4" r="2.1" fill="#de5d06"/><circle cx="363.8" cy="402" r="2.1" fill="#26f026"/><circle cx="450.8" cy="438.2" r="2.1" fill="#de5d06"/><circle cx="363.4" cy="391.7" r="2.1" fill="#26f026"/><circle cx="303.7" cy="401.6" r="2.1" fill="#00008b"/><circle cx="445.6" cy="430.9" r="2.1" fill="#de5d06"/><circle cx="335.2" cy="405.3" r="2.1" fill="#26f026"/><circle cx="355.7" cy="388.8" r="2.1" fill="#26f026"/><circle cx="360.1" cy="397.2" r="2.1" fill="#26f026"/><circle cx="363.8" cy="363.9" r="2.1" fill="#26f026"/><circle cx="399.5" cy="421.1" r="2.1" fill="#de5d06"/><circle cx="356.5" cy="397.2" r="2.1" fill="#26f026"/><circle cx="400.2" cy="438.6" r="2.1" fill="#de5d06"/><circle cx="433.2" cy="438.6" r="2.1" fill="#de5d06"/><circle cx="363.8" cy="433.8" r="2.1" fill="#de5d06"/><circle cx="359.8" cy="426.5" r="2.1" fill="#26f026"/><circle cx="358.7" cy="405.6" r="2.1" fill="#26f026"/><circle cx="325" cy="438.6" r="2.1" fill="#de5d06"/><circle cx="402.9" cy="438.6" r="2.1" fill="#de5d06"/><circle cx="448.3" cy="435.3" r="2.1" fill="#de5d06"/><circle cx="344.8" cy="409.3" r="2.1" fill="#00008b"/><circle cx="363.8" cy="381" r="2.1" fill="#26f026"/><circle cx="325" cy="410.4" r="2.1" fill="#00008b"/><circle cx="364.2" cy="395.4" r="2.1" fill="#26f026"/><circle cx="362.3" cy="400.5" r="2.1" fill="#26f026"/><circle cx="349.2" cy="405.9" r="2.1" fill="#26f026"/><circle cx="367.5" cy="438.6" r="2.1" fill="#de5d06"/><circle cx="412.7" cy="438.6" r="2.1" fill="#de5d06"/><circle cx="375.5" cy="371.7" r="2.1" fill="#26f026"/><circle cx="421.5" cy="437.8" r="2.1" fill="#de5d06"/><circle cx="320.9" cy="420.2" r="2.1" fill="#26f026"/><circle cx="351.4" cy="435.3" r="2.1" fill="#de5d06"/><circle cx="338.2" cy="413.3" r="2.1" fill="#26f026"/><circle cx="321.3" cy="427.5" r="2.1" fill="#26f026"/><circle cx="383.6" cy="438.6" r="2.1" fill="#de5d06"/><circle cx="414.9" cy="438.6" r="2.1" fill="#de5d06"/><circle cx="361.6" cy="392.5" r="2.1" fill="#26f026"/><circle cx="348.4" cy="408.6" r="2.1" fill="#26f026"/><circle cx="300.8" cy="405" r="2.1" fill="#00008b"/><circle cx="304.9" cy="438.6" r="2.1" fill="#de5d06"/><circle cx="409.8" cy="438.6" r="2.1" fill="#de5d06"/><circle cx="327.9" cy="416.7" r="2.1" fill="#26f026"/><circle cx="420" cy="435.7" r="2.1" fill="#de5d06"/><circle cx="314" cy="438.6" r="2.1" fill="#de5d06"/><circle cx="358.7" cy="397.1" r="2.1" fill="#26f026"/><circle cx="379.2" cy="434.8" r="2.1" fill="#de5d06"/></g>
<g></g>
<line x1="271" y1="438.1" x2="253.12" y2="316.93" stroke="#111" stroke-width="1.2"/><polygon points="252.1,310 255.2,317.63 251.34,318.2" fill="#111"/>
<line x1="273.1" y1="443.4" x2="355.4" y2="514.52" stroke="#111" stroke-width="1.2"/><polygon points="360.7,519.1 353.37,515.34 355.92,512.39" fill="#111"/>
<line x1="455.1" y1="443.4" x2="372.89" y2="514.52" stroke="#111" stroke-width="1.2"/><polygon points="367.6,519.1 372.37,512.39 374.93,515.34" fill="#111"/>
<text transform="translate(254.3,390.8) rotate(82.2) skewX(-8)" text-anchor="middle" class="ax">Rainforest</text>
<text transform="translate(310.5,491.8) rotate(40.8)" text-anchor="middle" class="ax">Mixed Forest</text>
<text transform="translate(426,483.5) rotate(-40.8)" text-anchor="middle" class="ax">Euc</text>
<text x="361" y="291.2" text-anchor="middle" class="ti">d. Full</text>
</g>
<g id="legend">
<text x="20.7" y="545.5" class="lg">Observed forest type:</text>
<circle cx="174.3" cy="542.8" r="2.9" fill="#cfcfcf"/>
<text x="179.8" y="545.5" class="lg">Euc</text>
<circle cx="222.1" cy="542.8" r="2.9" fill="#26f026"/>
<text x="227.1" y="545.5" class="lg">Fern</text>
<circle cx="274.3" cy="542.8" r="2.9" fill="#de5d06"/>
<text x="279.4" y="545.5" class="lg">Mixed Forest</text>
<circle cx="381.1" cy="542.8" r="2.9" fill="#00008b"/>
<text x="386.4" y="545.5" class="lg">Rainforest</text>
</g>
</svg>
</body></html>
